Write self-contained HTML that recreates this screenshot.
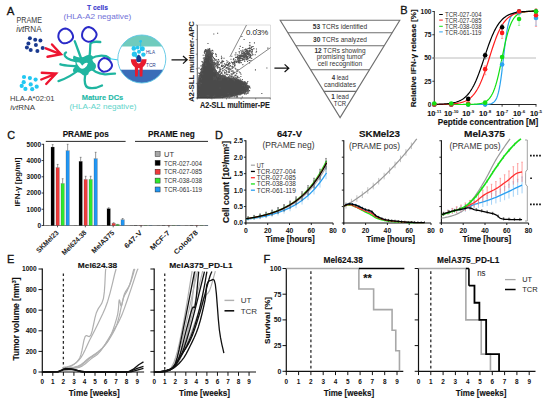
<!DOCTYPE html><html><head><meta charset="utf-8"><style>html,body{margin:0;padding:0;background:#fff;width:550px;height:401px;overflow:hidden}svg{display:block}text{font-family:"Liberation Sans",sans-serif}</style></head><body>
<svg width="550" height="401" viewBox="0 0 550 401">
<rect width="550" height="401" fill="#fff"/>
<text x="6.8" y="14.6" font-size="11.4" fill="#111" stroke="#111" stroke-width="0.3">A</text>
<text x="16.6" y="22.6" font-size="8.4" fill="#3a3a3a" textLength="25.4" lengthAdjust="spacingAndGlyphs" >PRAME</text>
<text x="16.2" y="31.9" font-size="8.4" fill="#3a3a3a" textLength="25.4" lengthAdjust="spacingAndGlyphs"><tspan font-style="italic">ivt</tspan>RNA</text>
<circle cx="29.9" cy="38.2" r="2" fill="#1a3a8f" />
<circle cx="35.2" cy="39.7" r="2" fill="#1a3a8f" />
<circle cx="40.4" cy="40.4" r="2" fill="#1a3a8f" />
<circle cx="28.4" cy="43.4" r="2" fill="#1a3a8f" />
<circle cx="35.9" cy="44.9" r="2" fill="#1a3a8f" />
<circle cx="42.7" cy="47.9" r="2" fill="#1a3a8f" />
<circle cx="26.9" cy="47.6" r="2" fill="#1a3a8f" />
<circle cx="30.7" cy="50.1" r="2" fill="#1a3a8f" />
<circle cx="37.4" cy="50.9" r="2" fill="#1a3a8f" />
<circle cx="24" cy="77" r="2.1" fill="#22c8f2" />
<circle cx="29.9" cy="78.1" r="2.1" fill="#22c8f2" />
<circle cx="35.6" cy="79.6" r="2.1" fill="#22c8f2" />
<circle cx="23.7" cy="82.2" r="2.1" fill="#22c8f2" />
<circle cx="30.7" cy="84.4" r="2.1" fill="#22c8f2" />
<circle cx="36.7" cy="86.7" r="2.1" fill="#22c8f2" />
<circle cx="21.7" cy="85.9" r="2.1" fill="#22c8f2" />
<circle cx="25.4" cy="88.9" r="2.1" fill="#22c8f2" />
<circle cx="32.2" cy="89.2" r="2.1" fill="#22c8f2" />
<text x="10" y="101.1" font-size="7.6" fill="#3a3a3a" textLength="44.6" lengthAdjust="spacingAndGlyphs" >HLA-A*02:01</text>
<text x="10.2" y="109.9" font-size="7.8" fill="#3a3a3a" textLength="24.8" lengthAdjust="spacingAndGlyphs"><tspan font-style="italic">ivt</tspan>RNA</text>
<g stroke="#ee1530" stroke-width="2.4" fill="none" stroke-linecap="round" stroke-linejoin="miter">
<path d="M45.8,48.3 L61,54.3 M52,44.5 L61,54.3 L47.5,56.8"/>
<path d="M41.3,79.5 L56,73.6 M41.8,72.8 L56,73.6 L46.2,84"/>
</g>
<text x="86.9" y="10.2" font-size="8" fill="#3838cc" font-weight="bold" stroke="#3838cc" stroke-width="0.12" textLength="21" lengthAdjust="spacingAndGlyphs" >T cells</text>
<text x="63.6" y="19.3" font-size="7.6" fill="#7272d8" textLength="67.7" lengthAdjust="spacingAndGlyphs" >(HLA-A2 negative)</text>
<g stroke="#1fb5a0" stroke-width="2.3" fill="none" stroke-linecap="round">
<path d="M81,58 C79,53 77,47 74.7,41.2"/>
<path d="M79,61 C74,61 67,59.5 65,56 C64,54 65,53 66,52.5"/>
<path d="M78,66.5 C72,65.5 66,66 60.4,64.3"/>
<path d="M79,69.5 C75,73 68,78 58.5,81.1"/>
<path d="M86,72 C84.5,77 84.5,83 86,86 C88,89 95,89 102,85.5"/>
<path d="M89,58.5 C90.5,53 90,46 90.5,43.5 C92,41.5 96,41.5 100.3,42"/>
<path d="M90,59 C95,56 101,55 106.2,56.2 C108,57 109,58 110,58.7"/>
<path d="M90,67 C93,70 96,73.5 105,74.3 C109,74.5 112,73.5 115,73.7"/>
</g>
<path transform="translate(84 65) scale(1.2) translate(-84 -65)" d="M75.5,57 Q81,60.5 86,57 Q89.5,55.5 91.5,58 Q90,62 93.5,64 Q95,67.5 92,69.5 Q88,69.5 87.5,73 Q84,75 82,72.5 Q80,70 76,71.5 Q73.5,69.5 76,67 Q78.5,64 75,60.5 Q74.5,58 75.5,57Z" fill="#1fb5a0"/>
<path transform="translate(83 65) scale(1.1) translate(-83 -65)" d="M77,62.8 Q80,61.8 81.5,64.5 Q82.5,66.3 83.5,64.3 Q85,62.3 87.5,63.2 Q87,66 84.5,67.8 Q82,69.3 80,67.3 Q78,65.5 77,62.8Z" fill="#fff"/>
<line x1="110" y1="58.7" x2="118.7" y2="60" stroke="#3cd0ee" stroke-width="1.1" />
<path d="M68.67,42.2 L67.51,42.68 L66.19,43.03 L64.83,43.21 L63.53,43.17 L62.4,42.87 L61.39,42.23 L60.43,41.3 L59.58,40.16 L58.92,38.95 L58.51,37.78 L58.36,36.57 L58.43,35.25 L58.69,33.92 L59.13,32.69 L59.74,31.63 L60.58,30.71 L61.66,29.86 L62.88,29.15 L64.13,28.67 L65.32,28.48 L66.48,28.65 L67.69,29.11 L68.88,29.79 L69.96,30.62 L70.85,31.52 L71.6,32.55 L72.27,33.77 L72.78,35.07 L73.05,36.36 L73.01,37.52 L72.59,38.61 L71.84,39.68 L70.86,40.68 L69.77,41.54 L68.67,42.2Z" fill="none" stroke="#2a2ac8" stroke-width="2.0" stroke-linejoin="round"/>
<path d="M87.47,41.55 L86.33,41.16 L85.15,40.5 L84.06,39.64 L83.14,38.67 L82.5,37.66 L82.16,36.54 L82.05,35.26 L82.15,33.92 L82.42,32.63 L82.85,31.47 L83.48,30.39 L84.32,29.3 L85.3,28.33 L86.37,27.57 L87.44,27.14 L88.58,27.09 L89.85,27.33 L91.13,27.81 L92.34,28.44 L93.38,29.16 L94.3,30.02 L95.17,31.06 L95.9,32.21 L96.41,33.39 L96.6,34.52 L96.43,35.67 L95.94,36.89 L95.23,38.08 L94.37,39.14 L93.46,39.99 L92.43,40.64 L91.22,41.16 L89.93,41.51 L88.65,41.65 L87.47,41.55Z" fill="none" stroke="#2a2ac8" stroke-width="2.0" stroke-linejoin="round"/>
<path d="M108.5,70.42 L107.48,70.95 L106.31,71.36 L105.09,71.6 L103.89,71.66 L102.82,71.47 L101.82,71 L100.82,70.25 L99.92,69.33 L99.18,68.31 L98.69,67.3 L98.46,66.22 L98.44,65.02 L98.61,63.79 L98.94,62.61 L99.42,61.59 L100.1,60.65 L100.99,59.75 L102.01,58.96 L103.09,58.37 L104.14,58.08 L105.2,58.13 L106.35,58.46 L107.49,59.01 L108.55,59.69 L109.45,60.44 L110.23,61.32 L110.95,62.36 L111.54,63.5 L111.91,64.64 L111.99,65.7 L111.71,66.74 L111.13,67.8 L110.34,68.82 L109.43,69.72 L108.5,70.42Z" fill="none" stroke="#2a2ac8" stroke-width="2.0" stroke-linejoin="round"/>
<text x="81.7" y="99.6" font-size="8" fill="#22b8a6" font-weight="bold" stroke="#22b8a6" stroke-width="0.12" textLength="41.5" lengthAdjust="spacingAndGlyphs" >Mature DCs</text>
<text x="69.4" y="108.6" font-size="7.6" fill="#62d4ca" textLength="67" lengthAdjust="spacingAndGlyphs" >(HLA-A2 negative)</text>
<defs><clipPath id="mc"><circle cx="141.8" cy="59" r="24"/></clipPath></defs>
<g clip-path="url(#mc)">
<rect x="117" y="34" width="50" height="50" fill="#fff"/>
<rect x="117" y="34" width="50" height="12.5" fill="#70cbbd"/>
<rect x="117" y="69.7" width="50" height="15" fill="#3a6db8"/>
</g>
<circle cx="141.8" cy="59" r="24" fill="none" stroke="#5cc6e4" stroke-width="0.9"/>
<line x1="140.7" y1="41.2" x2="140.7" y2="47.5" stroke="#26c4ef" stroke-width="0.9" />
<circle cx="140.7" cy="41.2" r="1.3" fill="#26c4ef" />
<circle cx="133.8" cy="48.4" r="2.3" fill="#26c4ef" />
<circle cx="137.6" cy="47.6" r="1.9" fill="#26c4ef" />
<circle cx="142.3" cy="48.8" r="2.5" fill="#26c4ef" />
<circle cx="134.4" cy="54.2" r="2.6" fill="#26c4ef" />
<circle cx="139" cy="51.8" r="2" fill="#26c4ef" />
<circle cx="143.4" cy="54.6" r="2.2" fill="#26c4ef" />
<circle cx="136.8" cy="56.5" r="1.5" fill="#26c4ef" />
<path d="M130.8,59.2 L136,59.2 C136.5,62 137.5,63.5 138.8,63.5 C140,63.5 141.2,62 141.6,59.2 L146.6,59.2 C146.6,63 145,65.5 142.8,67.3 L142.4,76.6 L139.8,76.6 L139.4,68 L138.2,68 L137.7,76.6 L135.1,76.6 L134.8,67.3 C132.5,65.5 130.8,63 130.8,59.2 Z" fill="#e81a2e"/>
<path d="M138.8,54.5 C140.8,56 142,59 141.3,61 C140.6,62.6 137.1,62.6 136.3,61 C135.6,59 136.8,56 138.8,54.5Z" fill="#1b3a8e"/>
<text x="146" y="54.1" font-size="5.3" fill="#2b3b8a" textLength="9" lengthAdjust="spacingAndGlyphs" >HLA</text>
<text x="146" y="67.4" font-size="5.3" fill="#2b3b8a" textLength="9.7" lengthAdjust="spacingAndGlyphs" >TCR</text>
<g stroke="#111" stroke-width="1.2" fill="none"><path d="M171.5,59.8 L187,59.8 M183,56 L187.2,59.8 L183,63.6"/></g>
<line x1="197.3" y1="25" x2="270.5" y2="25" stroke="#c8c8c8" stroke-width="0.6" />
<line x1="270.5" y1="25" x2="270.5" y2="98" stroke="#c8c8c8" stroke-width="0.6" />
<path d="M197.8,98 L197.8,84 L199,77 L201.5,70 L203.5,63 L205.5,56 L207.5,51.8 L209.5,51.3 L211,54 L212.5,60 L214,66 L216,71 L220,75 L226,77.5 L234,78.5 L241,80.5 L246,83.5 L249,87 L248,91 L242,94 L232,96.5 L220,97.8 L210,98Z" fill="#4a4a4a" stroke="#4a4a4a" stroke-width="0.8" stroke-linejoin="round"/>
<path d="M211.81,54.46h1.1v1.1h-1.1z M243.77,81.91h1.1v1.1h-1.1z M242.17,84.99h1.1v1.1h-1.1z M241.91,81.17h1.1v1.1h-1.1z M205.13,63.24h1.1v1.1h-1.1z M223.67,75.89h1.1v1.1h-1.1z M247.65,88.2h1.1v1.1h-1.1z M210.64,53.67h1.1v1.1h-1.1z M247.24,90.73h1.1v1.1h-1.1z M200.02,69.23h1.1v1.1h-1.1z M214.32,96.55h1.1v1.1h-1.1z M246.51,85.15h1.1v1.1h-1.1z M231.75,76.42h1.1v1.1h-1.1z M199.19,85.35h1.1v1.1h-1.1z M205.6,53.96h1.1v1.1h-1.1z M243.83,91.29h1.1v1.1h-1.1z M246.91,92.3h1.1v1.1h-1.1z M233.99,78.02h1.1v1.1h-1.1z M234.16,78.31h1.1v1.1h-1.1z M212.33,56.47h1.1v1.1h-1.1z M227.62,79.22h1.1v1.1h-1.1z M216.75,66.31h1.1v1.1h-1.1z M222.59,74.45h1.1v1.1h-1.1z M244.89,82.36h1.1v1.1h-1.1z M212.55,63.18h1.1v1.1h-1.1z M212,66.38h1.1v1.1h-1.1z M222.01,97.18h1.1v1.1h-1.1z M217.61,74.37h1.1v1.1h-1.1z M245.59,87.64h1.1v1.1h-1.1z M210.86,58.9h1.1v1.1h-1.1z M205.2,55.07h1.1v1.1h-1.1z M238.95,93.52h1.1v1.1h-1.1z M246.44,82.82h1.1v1.1h-1.1z M205.96,52.13h1.1v1.1h-1.1z M236.99,96.38h1.1v1.1h-1.1z M239.63,79.44h1.1v1.1h-1.1z M227.89,95.8h1.1v1.1h-1.1z M202.11,68.91h1.1v1.1h-1.1z M245.93,93.32h1.1v1.1h-1.1z M229.15,94.88h1.1v1.1h-1.1z M228.07,76.25h1.1v1.1h-1.1z M217.56,74.62h1.1v1.1h-1.1z M198.42,77.11h1.1v1.1h-1.1z M228.66,97.19h1.1v1.1h-1.1z M206.67,94.98h1.1v1.1h-1.1z M213.56,97.03h1.1v1.1h-1.1z M212.41,50.38h1.1v1.1h-1.1z M205.27,64.56h1.1v1.1h-1.1z M232.21,77.7h1.1v1.1h-1.1z M205.97,53.6h1.1v1.1h-1.1z M249.7,87.44h1.1v1.1h-1.1z M215.3,65.79h1.1v1.1h-1.1z M198.19,82.51h1.1v1.1h-1.1z M202.05,65.42h1.1v1.1h-1.1z M206.42,56.77h1.1v1.1h-1.1z M219.61,75.59h1.1v1.1h-1.1z M248.1,85.13h1.1v1.1h-1.1z M199.85,82.57h1.1v1.1h-1.1z M198.98,72.89h1.1v1.1h-1.1z M198.29,72.61h1.1v1.1h-1.1z M217.88,71.41h1.1v1.1h-1.1z M203.79,57.32h1.1v1.1h-1.1z M201.26,72.87h1.1v1.1h-1.1z M234.31,96.26h1.1v1.1h-1.1z M206.9,97.03h1.1v1.1h-1.1z M200.57,71.51h1.1v1.1h-1.1z M209.51,51.32h1.1v1.1h-1.1z M209.71,97.18h1.1v1.1h-1.1z M201.86,64.08h1.1v1.1h-1.1z M242.21,92.76h1.1v1.1h-1.1z M220.21,74.89h1.1v1.1h-1.1z M222.99,75.26h1.1v1.1h-1.1z M202.12,70.26h1.1v1.1h-1.1z M209.09,48h1.1v1.1h-1.1z M198.47,79h1.1v1.1h-1.1z M199.48,75.65h1.1v1.1h-1.1z M235.38,94.85h1.1v1.1h-1.1z M236.69,95.53h1.1v1.1h-1.1z M199.67,76.8h1.1v1.1h-1.1z M204.22,52.99h1.1v1.1h-1.1z M248.24,86.44h1.1v1.1h-1.1z M201.78,61.33h1.1v1.1h-1.1z M205.23,54.15h1.1v1.1h-1.1z M246.62,86.03h1.1v1.1h-1.1z M214.03,62.1h1.1v1.1h-1.1z M243.84,93.11h1.1v1.1h-1.1z M197.54,92.88h1.1v1.1h-1.1z M244.31,93.55h1.1v1.1h-1.1z M203.13,57.61h1.1v1.1h-1.1z M209.11,48.94h1.1v1.1h-1.1z M248.93,86.54h1.1v1.1h-1.1z M224.44,76.14h1.1v1.1h-1.1z M208.94,51.35h1.1v1.1h-1.1z M201.43,68.97h1.1v1.1h-1.1z M209.68,52.24h1.1v1.1h-1.1z M211.67,96.83h1.1v1.1h-1.1z M198.49,78.49h1.1v1.1h-1.1z M219.07,77.21h1.1v1.1h-1.1z M202.18,73.56h1.1v1.1h-1.1z M211.77,53.58h1.1v1.1h-1.1z M217.93,75.35h1.1v1.1h-1.1z M220.37,96.61h1.1v1.1h-1.1z M214.17,68.67h1.1v1.1h-1.1z M244,81.87h1.1v1.1h-1.1z M241.72,91.01h1.1v1.1h-1.1z M204.77,59.99h1.1v1.1h-1.1z M198.44,67.62h1.1v1.1h-1.1z M221.45,95.94h1.1v1.1h-1.1z M226.95,96.44h1.1v1.1h-1.1z M208.15,95.32h1.1v1.1h-1.1z M247.41,89.13h1.1v1.1h-1.1z M211.29,55.48h1.1v1.1h-1.1z M245.74,82.43h1.1v1.1h-1.1z M213.1,70.93h1.1v1.1h-1.1z M199.69,73.46h1.1v1.1h-1.1z M210.64,55.47h1.1v1.1h-1.1z M201.82,69.41h1.1v1.1h-1.1z M224.33,74.75h1.1v1.1h-1.1z M205.16,54.88h1.1v1.1h-1.1z M206.38,54h1.1v1.1h-1.1z M212.89,57.04h1.1v1.1h-1.1z M222.28,74.62h1.1v1.1h-1.1z M244.91,81.87h1.1v1.1h-1.1z M212.93,96.1h1.1v1.1h-1.1z M205.17,53.46h1.1v1.1h-1.1z M247.22,80.95h1.1v1.1h-1.1z M233.84,80.03h1.1v1.1h-1.1z M203.7,59.75h1.1v1.1h-1.1z M244.18,81.08h1.1v1.1h-1.1z M219.94,75.15h1.1v1.1h-1.1z M234.22,95.5h1.1v1.1h-1.1z M215.58,70.89h1.1v1.1h-1.1z M207.89,49.54h1.1v1.1h-1.1z M200.42,65.31h1.1v1.1h-1.1z M247.99,91.31h1.1v1.1h-1.1z M206.83,53.77h1.1v1.1h-1.1z M216.39,73.25h1.1v1.1h-1.1z M237.34,79.25h1.1v1.1h-1.1z M245.18,91.93h1.1v1.1h-1.1z M201.39,65.48h1.1v1.1h-1.1z M197.97,84.08h1.1v1.1h-1.1z M223.22,77.2h1.1v1.1h-1.1z M217.14,72.78h1.1v1.1h-1.1z M212.71,59.69h1.1v1.1h-1.1z M212.38,62.26h1.1v1.1h-1.1z M214.38,69.07h1.1v1.1h-1.1z M201.68,69.67h1.1v1.1h-1.1z M198.41,81.52h1.1v1.1h-1.1z M215.31,66.21h1.1v1.1h-1.1z M245.36,82.58h1.1v1.1h-1.1z M212.2,63h1.1v1.1h-1.1z M210.9,61.36h1.1v1.1h-1.1z M246.85,85.08h1.1v1.1h-1.1z M207.47,50.97h1.1v1.1h-1.1z M249.03,90.03h1.1v1.1h-1.1z M235.33,76.95h1.1v1.1h-1.1z M209.51,58.28h1.1v1.1h-1.1z M207.81,52.67h1.1v1.1h-1.1z M230.46,95.76h1.1v1.1h-1.1z M239.6,78.58h1.1v1.1h-1.1z M216.23,72.61h1.1v1.1h-1.1z M201.09,68.4h1.1v1.1h-1.1z M227.57,92.91h1.1v1.1h-1.1z M230.36,96.08h1.1v1.1h-1.1z M213.71,66.9h1.1v1.1h-1.1z M230.44,76.83h1.1v1.1h-1.1z M245.89,89.95h1.1v1.1h-1.1z M198.46,77.86h1.1v1.1h-1.1z M201.78,67.71h1.1v1.1h-1.1z M237.14,77h1.1v1.1h-1.1z M202.42,62.33h1.1v1.1h-1.1z M215.87,70.15h1.1v1.1h-1.1z M211.22,63.13h1.1v1.1h-1.1z M208.28,51.24h1.1v1.1h-1.1z M200.28,68.84h1.1v1.1h-1.1z M229.67,95.92h1.1v1.1h-1.1z M207.59,50.2h1.1v1.1h-1.1z M210.48,50.66h1.1v1.1h-1.1z M229.72,96.05h1.1v1.1h-1.1z M228.91,77.24h1.1v1.1h-1.1z M198.96,96.04h1.1v1.1h-1.1z M214.07,63.02h1.1v1.1h-1.1z M208.22,52.24h1.1v1.1h-1.1z M218.07,74.47h1.1v1.1h-1.1z M202.75,63h1.1v1.1h-1.1z M216.05,64.97h1.1v1.1h-1.1z M216.42,75.51h1.1v1.1h-1.1z M241.89,81.21h1.1v1.1h-1.1z M209.74,61.78h1.1v1.1h-1.1z M214.5,63.27h1.1v1.1h-1.1z M210.58,51.5h1.1v1.1h-1.1z M237.14,78.4h1.1v1.1h-1.1z M248.5,86.78h1.1v1.1h-1.1z M233.59,76.34h1.1v1.1h-1.1z M201.71,68.24h1.1v1.1h-1.1z M242.52,81.59h1.1v1.1h-1.1z M226.53,76.97h1.1v1.1h-1.1z M247.41,92.84h1.1v1.1h-1.1z M230.32,76.02h1.1v1.1h-1.1z M211.91,53.97h1.1v1.1h-1.1z M199.54,76.36h1.1v1.1h-1.1z M214.19,94.65h1.1v1.1h-1.1z M245.9,84.31h1.1v1.1h-1.1z M206.67,57.03h1.1v1.1h-1.1z M200.91,67.74h1.1v1.1h-1.1z M211.86,55.97h1.1v1.1h-1.1z M215.19,66.5h1.1v1.1h-1.1z M211.82,52.24h1.1v1.1h-1.1z M202.79,57.72h1.1v1.1h-1.1z M202.12,66.56h1.1v1.1h-1.1z M246.74,82.18h1.1v1.1h-1.1z M206.5,52.66h1.1v1.1h-1.1z M220.93,78.39h1.1v1.1h-1.1z M213.26,67.7h1.1v1.1h-1.1z M201.4,60.97h1.1v1.1h-1.1z M241.76,81.14h1.1v1.1h-1.1z M245.35,82.86h1.1v1.1h-1.1z M199.22,83.94h1.1v1.1h-1.1z M226.57,77.33h1.1v1.1h-1.1z M248.57,90.02h1.1v1.1h-1.1z M205.91,54.39h1.1v1.1h-1.1z M237.74,78.72h1.1v1.1h-1.1z M221.87,96.73h1.1v1.1h-1.1z M203.56,59.12h1.1v1.1h-1.1z M221.14,75h1.1v1.1h-1.1z M202.09,69.3h1.1v1.1h-1.1z M241.78,96.52h1.1v1.1h-1.1z M204.94,56.81h1.1v1.1h-1.1z M241.81,79.05h1.1v1.1h-1.1z M218.43,71.46h1.1v1.1h-1.1z M227.8,77.08h1.1v1.1h-1.1z M246.36,89.73h1.1v1.1h-1.1z M213.82,64.38h1.1v1.1h-1.1z M205.95,53.54h1.1v1.1h-1.1z M202.46,65.99h1.1v1.1h-1.1z M224.77,75.47h1.1v1.1h-1.1z M209.23,53.65h1.1v1.1h-1.1z M204.41,59.72h1.1v1.1h-1.1z M244.7,92.68h1.1v1.1h-1.1z M233.54,94.2h1.1v1.1h-1.1z M209.99,53.99h1.1v1.1h-1.1z M214.92,70.48h1.1v1.1h-1.1z M209.54,56.39h1.1v1.1h-1.1z M205.54,51.06h1.1v1.1h-1.1z M239.51,94.39h1.1v1.1h-1.1z M236.05,96.32h1.1v1.1h-1.1z M222.11,75.69h1.1v1.1h-1.1z M198.94,78.69h1.1v1.1h-1.1z M223.01,77.07h1.1v1.1h-1.1z M243.93,85.31h1.1v1.1h-1.1z M210.07,97.06h1.1v1.1h-1.1z M208.97,50.76h1.1v1.1h-1.1z M198.18,75.33h1.1v1.1h-1.1z M198.66,89.14h1.1v1.1h-1.1z M220.27,71.32h1.1v1.1h-1.1z M234.49,77.85h1.1v1.1h-1.1z M221.51,75.86h1.1v1.1h-1.1z M249.04,85.64h1.1v1.1h-1.1z M199.89,72.21h1.1v1.1h-1.1z M245.03,83.4h1.1v1.1h-1.1z M219.54,73.66h1.1v1.1h-1.1z M249.3,50.4h1.1v1.1h-1.1z M251.11,46.56h1.1v1.1h-1.1z M248.07,55.52h1.1v1.1h-1.1z M249.46,55.41h1.1v1.1h-1.1z M247.93,51.29h1.1v1.1h-1.1z M235.33,52.32h1.1v1.1h-1.1z M225.15,64.2h1.1v1.1h-1.1z M243.98,60.61h1.1v1.1h-1.1z M237.37,56.38h1.1v1.1h-1.1z M250.05,50.28h1.1v1.1h-1.1z M244.26,55.38h1.1v1.1h-1.1z M243.15,57.24h1.1v1.1h-1.1z M243.18,56.49h1.1v1.1h-1.1z M241.23,55.48h1.1v1.1h-1.1z M245.36,50.99h1.1v1.1h-1.1z M250.43,48.24h1.1v1.1h-1.1z M244.31,53.73h1.1v1.1h-1.1z M227.02,65.21h1.1v1.1h-1.1z M244.72,52.93h1.1v1.1h-1.1z M247.89,53.03h1.1v1.1h-1.1z M249.46,44.76h1.1v1.1h-1.1z M235.69,61.74h1.1v1.1h-1.1z M237.76,59.96h1.1v1.1h-1.1z M252.63,45.9h1.1v1.1h-1.1z M239.48,60.38h1.1v1.1h-1.1z M244.28,60.73h1.1v1.1h-1.1z M240.72,62.1h1.1v1.1h-1.1z M241.91,52.79h1.1v1.1h-1.1z M234.39,64.25h1.1v1.1h-1.1z M229.03,63.33h1.1v1.1h-1.1z M230.41,69.5h1.1v1.1h-1.1z M239.03,56.66h1.1v1.1h-1.1z M240.83,55.41h1.1v1.1h-1.1z M246.1,51.67h1.1v1.1h-1.1z M242.55,55.31h1.1v1.1h-1.1z M238.34,59.79h1.1v1.1h-1.1z M237.56,57.63h1.1v1.1h-1.1z M251.47,49.18h1.1v1.1h-1.1z M237.44,54.77h1.1v1.1h-1.1z M251.19,51.22h1.1v1.1h-1.1z M244.36,51.5h1.1v1.1h-1.1z M234.27,62.01h1.1v1.1h-1.1z M249.13,51.19h1.1v1.1h-1.1z M244.99,51.01h1.1v1.1h-1.1z M241.32,59.76h1.1v1.1h-1.1z M237.62,57.12h1.1v1.1h-1.1z M242.29,64.04h1.1v1.1h-1.1z M240.33,54.52h1.1v1.1h-1.1z M249.41,47.82h1.1v1.1h-1.1z M245.01,48.6h1.1v1.1h-1.1z M234.18,60.46h1.1v1.1h-1.1z M246.51,56.25h1.1v1.1h-1.1z M243.87,56.38h1.1v1.1h-1.1z M242.24,53.51h1.1v1.1h-1.1z M237.9,61.05h1.1v1.1h-1.1z M241.95,59.75h1.1v1.1h-1.1z M246.91,57.36h1.1v1.1h-1.1z M251.51,46.24h1.1v1.1h-1.1z M236.16,61.94h1.1v1.1h-1.1z M233.84,62.08h1.1v1.1h-1.1z M234.35,63.67h1.1v1.1h-1.1z M233.85,61.59h1.1v1.1h-1.1z M221.82,65.81h1.1v1.1h-1.1z M236.05,60.67h1.1v1.1h-1.1z M238.7,54.83h1.1v1.1h-1.1z M251.08,48.83h1.1v1.1h-1.1z M239.13,58.39h1.1v1.1h-1.1z M229.63,65.74h1.1v1.1h-1.1z M252.37,54.04h1.1v1.1h-1.1z M234.9,56.71h1.1v1.1h-1.1z M235.18,56.94h1.1v1.1h-1.1z M252,49.11h1.1v1.1h-1.1z M237.36,60.25h1.1v1.1h-1.1z M241.49,57.86h1.1v1.1h-1.1z M241.26,53.65h1.1v1.1h-1.1z M238.46,60.31h1.1v1.1h-1.1z M250.63,54.79h1.1v1.1h-1.1z M242.19,52.44h1.1v1.1h-1.1z M243.16,51.47h1.1v1.1h-1.1z M235.62,60.51h1.1v1.1h-1.1z M247.09,52.32h1.1v1.1h-1.1z M238.85,52.49h1.1v1.1h-1.1z M241.93,58.2h1.1v1.1h-1.1z M222.66,65.01h1.1v1.1h-1.1z M246.18,49.22h1.1v1.1h-1.1z M238.74,60.23h1.1v1.1h-1.1z M232.55,63.85h1.1v1.1h-1.1z M256,50.65h1.1v1.1h-1.1z M239.31,61.75h1.1v1.1h-1.1z M245.87,56.91h1.1v1.1h-1.1z M238.85,48.2h1.1v1.1h-1.1z M242.12,56.04h1.1v1.1h-1.1z M242.3,49.61h1.1v1.1h-1.1z M232.16,62.58h1.1v1.1h-1.1z M243.92,56.52h1.1v1.1h-1.1z M232.06,61.89h1.1v1.1h-1.1z M244.42,58.39h1.1v1.1h-1.1z M239.39,59.44h1.1v1.1h-1.1z M249.47,45.17h1.1v1.1h-1.1z M232.74,66.74h1.1v1.1h-1.1z M228.03,64.54h1.1v1.1h-1.1z M227.5,68.56h1.1v1.1h-1.1z M245.51,50.37h1.1v1.1h-1.1z M248.51,53.91h1.1v1.1h-1.1z M240.53,55.62h1.1v1.1h-1.1z M247.44,53.92h1.1v1.1h-1.1z M240.9,52.27h1.1v1.1h-1.1z M237.38,69.02h1.1v1.1h-1.1z M240.56,55.98h1.1v1.1h-1.1z M241.38,57.9h1.1v1.1h-1.1z M230.94,61.53h1.1v1.1h-1.1z M247.17,51.71h1.1v1.1h-1.1z M250.99,51.41h1.1v1.1h-1.1z M247.36,48.05h1.1v1.1h-1.1z M237.7,62.18h1.1v1.1h-1.1z M239.16,57.9h1.1v1.1h-1.1z M245,48.96h1.1v1.1h-1.1z M255.93,48.39h1.1v1.1h-1.1z M239.19,61.15h1.1v1.1h-1.1z M249.22,49.62h1.1v1.1h-1.1z M239.41,55.17h1.1v1.1h-1.1z M246.9,54.21h1.1v1.1h-1.1z M243.14,55.33h1.1v1.1h-1.1z M247.49,59.4h1.1v1.1h-1.1z M251.65,51.46h1.1v1.1h-1.1z M248.47,47.82h1.1v1.1h-1.1z M239.64,55.45h1.1v1.1h-1.1z M245.01,53.42h1.1v1.1h-1.1z M245.06,54.66h1.1v1.1h-1.1z M242.22,46.99h1.1v1.1h-1.1z M233.6,60.78h1.1v1.1h-1.1z M244.65,55.86h1.1v1.1h-1.1z M239.16,58.79h1.1v1.1h-1.1z M226.51,67.07h1.1v1.1h-1.1z M233.25,58.04h1.1v1.1h-1.1z M241.21,52.61h1.1v1.1h-1.1z M226.33,64.54h1.1v1.1h-1.1z M238.03,57.32h1.1v1.1h-1.1z M233.95,64.82h1.1v1.1h-1.1z M244.11,52.3h1.1v1.1h-1.1z M239.44,56.86h1.1v1.1h-1.1z M245.48,48.53h1.1v1.1h-1.1z M236.08,60.63h1.1v1.1h-1.1z M247.34,50.71h1.1v1.1h-1.1z M233.59,66.19h1.1v1.1h-1.1z M248.32,52.54h1.1v1.1h-1.1z M240.15,59.92h1.1v1.1h-1.1z M246.73,49.81h1.1v1.1h-1.1z M234.78,59.22h1.1v1.1h-1.1z M246.67,50.59h1.1v1.1h-1.1z M243.03,58.66h1.1v1.1h-1.1z M228.27,66.22h1.1v1.1h-1.1z M249.28,46.63h1.1v1.1h-1.1z M236.91,56.03h1.1v1.1h-1.1z M234.48,65.19h1.1v1.1h-1.1z M245.78,54.38h1.1v1.1h-1.1z M248.52,49.95h1.1v1.1h-1.1z M250.96,48.78h1.1v1.1h-1.1z M239.68,45.85h1.1v1.1h-1.1z M239.47,61.73h1.1v1.1h-1.1z M241.68,55.57h1.1v1.1h-1.1z M251.54,52.79h1.1v1.1h-1.1z M241.47,51.01h1.1v1.1h-1.1z M250.62,51.77h1.1v1.1h-1.1z M245.26,54.61h1.1v1.1h-1.1z M239.1,62.42h1.1v1.1h-1.1z M248.85,56.85h1.1v1.1h-1.1z M251.8,50.6h1.1v1.1h-1.1z M228.46,69.66h1.1v1.1h-1.1z M223.08,60.89h1.1v1.1h-1.1z M232.87,59.04h1.1v1.1h-1.1z M239.54,57.92h1.1v1.1h-1.1z M239.09,57.59h1.1v1.1h-1.1z M251.95,54.46h1.1v1.1h-1.1z M247.37,53.75h1.1v1.1h-1.1z M229.7,68.61h1.1v1.1h-1.1z M229.38,65.58h1.1v1.1h-1.1z M251.01,46.4h1.1v1.1h-1.1z M244.4,55.77h1.1v1.1h-1.1z M244.15,56.74h1.1v1.1h-1.1z M247.47,51.42h1.1v1.1h-1.1z M245.09,52.88h1.1v1.1h-1.1z M237.23,57.51h1.1v1.1h-1.1z M238.61,51.08h1.1v1.1h-1.1z M238,57.9h1.1v1.1h-1.1z M246.63,50.22h1.1v1.1h-1.1z M250.12,56.78h1.1v1.1h-1.1z M243.62,57.2h1.1v1.1h-1.1z M249.91,53.64h1.1v1.1h-1.1z M233.73,63h1.1v1.1h-1.1z M245.48,55.15h1.1v1.1h-1.1z M253.31,48.04h1.1v1.1h-1.1z M228.02,63.58h1.1v1.1h-1.1z M228.83,61.98h1.1v1.1h-1.1z M250.12,56.26h1.1v1.1h-1.1z M244.07,49.35h1.1v1.1h-1.1z M253.93,42.37h1.1v1.1h-1.1z M230.44,58.7h1.1v1.1h-1.1z M248.12,51.7h1.1v1.1h-1.1z M249.28,42.12h1.1v1.1h-1.1z M251.14,58h1.1v1.1h-1.1z M250.93,46.78h1.1v1.1h-1.1z M249.03,54.21h1.1v1.1h-1.1z M234.45,61h1.1v1.1h-1.1z M238.17,62.18h1.1v1.1h-1.1z M248.86,44.73h1.1v1.1h-1.1z M231.99,62.43h1.1v1.1h-1.1z M241.86,58.28h1.1v1.1h-1.1z M237.25,60.84h1.1v1.1h-1.1z M255.54,51.67h1.1v1.1h-1.1z M232.97,61.89h1.1v1.1h-1.1z M231.8,65.85h1.1v1.1h-1.1z M239.7,55.34h1.1v1.1h-1.1z M224.82,65.31h1.1v1.1h-1.1z M236.13,56.81h1.1v1.1h-1.1z M240.43,55.15h1.1v1.1h-1.1z M236.86,58.62h1.1v1.1h-1.1z M238.69,57.52h1.1v1.1h-1.1z M226.56,61.93h1.1v1.1h-1.1z M234.27,62.48h1.1v1.1h-1.1z M246.96,57.96h1.1v1.1h-1.1z M249,50.87h1.1v1.1h-1.1z M245.74,53.09h1.1v1.1h-1.1z M226,67.04h1.1v1.1h-1.1z M254.68,54.26h1.1v1.1h-1.1z M239.42,58.21h1.1v1.1h-1.1z M231.28,55.64h1.1v1.1h-1.1z M239.25,59.35h1.1v1.1h-1.1z M247.22,53.68h1.1v1.1h-1.1z M240.09,55.36h1.1v1.1h-1.1z M215.22,62.5h1.1v1.1h-1.1z M214.75,76.52h1.1v1.1h-1.1z M224.15,75.37h1.1v1.1h-1.1z M222.07,76.84h1.1v1.1h-1.1z M217.59,65.23h1.1v1.1h-1.1z M220.14,74.67h1.1v1.1h-1.1z M217.67,75.78h1.1v1.1h-1.1z M228.23,71.33h1.1v1.1h-1.1z M226.94,74.24h1.1v1.1h-1.1z M215.14,64.36h1.1v1.1h-1.1z M213.26,79.12h1.1v1.1h-1.1z M219.18,70.29h1.1v1.1h-1.1z M230.59,73.18h1.1v1.1h-1.1z M216.09,72.42h1.1v1.1h-1.1z M221.01,75.31h1.1v1.1h-1.1z M217.05,76.48h1.1v1.1h-1.1z M217.77,62.12h1.1v1.1h-1.1z M231.8,78.4h1.1v1.1h-1.1z M220.01,73.54h1.1v1.1h-1.1z M214.62,77.43h1.1v1.1h-1.1z M215.6,79.25h1.1v1.1h-1.1z M217.72,61.97h1.1v1.1h-1.1z M216.1,64.61h1.1v1.1h-1.1z M220.85,65.9h1.1v1.1h-1.1z M218.68,71.08h1.1v1.1h-1.1z M225.51,76.13h1.1v1.1h-1.1z M213.09,61.85h1.1v1.1h-1.1z M227.75,77.44h1.1v1.1h-1.1z M213.26,69.65h1.1v1.1h-1.1z M214.99,70.82h1.1v1.1h-1.1z M219.97,68.72h1.1v1.1h-1.1z M213.52,65.53h1.1v1.1h-1.1z M213.95,63.9h1.1v1.1h-1.1z M220.62,77.18h1.1v1.1h-1.1z M213.57,58.01h1.1v1.1h-1.1z M228.76,71.94h1.1v1.1h-1.1z M215.87,72.3h1.1v1.1h-1.1z M213.19,67.63h1.1v1.1h-1.1z M216.86,67.6h1.1v1.1h-1.1z M221.16,71.91h1.1v1.1h-1.1z M218.66,71.95h1.1v1.1h-1.1z M215.28,70.72h1.1v1.1h-1.1z M222.22,74.16h1.1v1.1h-1.1z M215.61,59.53h1.1v1.1h-1.1z M216.53,74.3h1.1v1.1h-1.1z M221.96,68h1.1v1.1h-1.1z M217.12,65.78h1.1v1.1h-1.1z M227.32,76.73h1.1v1.1h-1.1z M222.7,76.33h1.1v1.1h-1.1z M232.88,79.05h1.1v1.1h-1.1z M212.09,65.33h1.1v1.1h-1.1z M213.29,67.34h1.1v1.1h-1.1z M219.22,70.41h1.1v1.1h-1.1z M213.29,77.3h1.1v1.1h-1.1z M215.76,59.2h1.1v1.1h-1.1z M221.56,77.07h1.1v1.1h-1.1z M212.65,64.35h1.1v1.1h-1.1z M217.37,61.54h1.1v1.1h-1.1z M218.42,72.42h1.1v1.1h-1.1z M227.88,71.66h1.1v1.1h-1.1z M223.6,66.88h1.1v1.1h-1.1z M230.81,73.54h1.1v1.1h-1.1z M221.18,65.2h1.1v1.1h-1.1z M221.6,72.72h1.1v1.1h-1.1z M218.58,79.42h1.1v1.1h-1.1z M222.35,69.56h1.1v1.1h-1.1z M232.49,79.07h1.1v1.1h-1.1z M214.75,76.91h1.1v1.1h-1.1z M221.32,65.39h1.1v1.1h-1.1z M230.74,76.27h1.1v1.1h-1.1z M217.31,75.67h1.1v1.1h-1.1z M227.84,71.27h1.1v1.1h-1.1z M214.16,69.56h1.1v1.1h-1.1z M233.25,77.39h1.1v1.1h-1.1z M220.54,72.9h1.1v1.1h-1.1z M233.02,76.69h1.1v1.1h-1.1z M217.43,63.85h1.1v1.1h-1.1z M222.86,67.45h1.1v1.1h-1.1z M221.01,65.11h1.1v1.1h-1.1z M221.89,67.95h1.1v1.1h-1.1z M213.09,76.38h1.1v1.1h-1.1z M214.12,71.5h1.1v1.1h-1.1z M231.54,75.5h1.1v1.1h-1.1z M215.56,78.28h1.1v1.1h-1.1z M220.06,69.27h1.1v1.1h-1.1z M233.02,77.32h1.1v1.1h-1.1z M213.7,78.49h1.1v1.1h-1.1z M213.83,57.97h1.1v1.1h-1.1z M213.94,58.14h1.1v1.1h-1.1z M219.04,71.23h1.1v1.1h-1.1z M215.61,78.88h1.1v1.1h-1.1z M229.05,74.56h1.1v1.1h-1.1z M224.06,72.62h1.1v1.1h-1.1z M218.2,63.55h1.1v1.1h-1.1z M220.39,79.36h1.1v1.1h-1.1z M220.34,68.81h1.1v1.1h-1.1z M219.53,69.67h1.1v1.1h-1.1z M225.07,77.17h1.1v1.1h-1.1z M213.83,64.22h1.1v1.1h-1.1z M232.4,70.39h1.1v1.1h-1.1z M216.68,62.85h1.1v1.1h-1.1z M232.2,70.23h1.1v1.1h-1.1z M240.45,73.77h1.1v1.1h-1.1z M209.54,56.5h1.1v1.1h-1.1z M221.28,57.26h1.1v1.1h-1.1z M228.72,69.77h1.1v1.1h-1.1z M225.95,70.43h1.1v1.1h-1.1z M232.17,73.17h1.1v1.1h-1.1z M234.44,74.81h1.1v1.1h-1.1z M225.94,64.09h1.1v1.1h-1.1z M217.73,59.09h1.1v1.1h-1.1z M216.13,61.43h1.1v1.1h-1.1z M233.14,76.45h1.1v1.1h-1.1z M213.25,62.25h1.1v1.1h-1.1z M234.68,77.88h1.1v1.1h-1.1z M219.98,62.3h1.1v1.1h-1.1z M234.68,67.68h1.1v1.1h-1.1z M211.85,49.71h1.1v1.1h-1.1z M222.55,70.11h1.1v1.1h-1.1z M226.14,63.63h1.1v1.1h-1.1z M229.87,64.89h1.1v1.1h-1.1z M227.38,73.84h1.1v1.1h-1.1z M228.44,67.5h1.1v1.1h-1.1z M230.14,68.6h1.1v1.1h-1.1z M233.74,71.81h1.1v1.1h-1.1z M225.39,69.97h1.1v1.1h-1.1z M214.8,59.58h1.1v1.1h-1.1z M217.49,65.42h1.1v1.1h-1.1z M219.46,67.27h1.1v1.1h-1.1z M218.86,64.11h1.1v1.1h-1.1z M220.89,57.76h1.1v1.1h-1.1z M224.69,66.17h1.1v1.1h-1.1z M211.46,49.91h1.1v1.1h-1.1z M227.21,67.38h1.1v1.1h-1.1z M218.47,66.91h1.1v1.1h-1.1z M232.48,70.41h1.1v1.1h-1.1z M221.5,60.5h1.1v1.1h-1.1z M232.2,67.14h1.1v1.1h-1.1z M214.31,58.86h1.1v1.1h-1.1z M225.52,72.41h1.1v1.1h-1.1z M219.57,68.93h1.1v1.1h-1.1z M215.07,53.33h1.1v1.1h-1.1z M229.11,71.26h1.1v1.1h-1.1z M215.49,63.24h1.1v1.1h-1.1z M236.3,78.25h1.1v1.1h-1.1z M219.25,68.54h1.1v1.1h-1.1z M227.87,68.67h1.1v1.1h-1.1z M221.05,58.05h1.1v1.1h-1.1z M238.5,76.88h1.1v1.1h-1.1z M226.26,60.15h1.1v1.1h-1.1z M210.97,57.98h1.1v1.1h-1.1z M223.88,63.33h1.1v1.1h-1.1z M238.82,71.38h1.1v1.1h-1.1z M228.01,63.07h1.1v1.1h-1.1z M222.2,60.2h1.1v1.1h-1.1z M235.32,68.6h1.1v1.1h-1.1z M225.31,69.86h1.1v1.1h-1.1z M232.38,71.45h1.1v1.1h-1.1z M224.07,69.17h1.1v1.1h-1.1z M221.55,63.48h1.1v1.1h-1.1z M217.02,64.03h1.1v1.1h-1.1z M217.11,60.71h1.1v1.1h-1.1z M235.99,77.81h1.1v1.1h-1.1z M230.92,70.7h1.1v1.1h-1.1z M211.07,52.8h1.1v1.1h-1.1z M225.39,63.63h1.1v1.1h-1.1z M228.86,68.3h1.1v1.1h-1.1z M231.23,66.24h1.1v1.1h-1.1z M237.14,70.75h1.1v1.1h-1.1z M237.24,75.76h1.1v1.1h-1.1z M224.66,66.07h1.1v1.1h-1.1z M221.49,65.54h1.1v1.1h-1.1z M219.51,67.38h1.1v1.1h-1.1z M213.86,60.43h1.1v1.1h-1.1z M228.96,74.68h1.1v1.1h-1.1z M225.78,73.87h1.1v1.1h-1.1z M220.94,55.65h1.1v1.1h-1.1z M233.01,72.61h1.1v1.1h-1.1z M215.46,54.07h1.1v1.1h-1.1z M239.73,72.37h1.1v1.1h-1.1z M226.3,71.43h1.1v1.1h-1.1z M227.44,61.2h1.1v1.1h-1.1z M227.24,64.22h1.1v1.1h-1.1z M222.77,67.45h1.1v1.1h-1.1z M236.85,76.21h1.1v1.1h-1.1z M215.77,55.99h1.1v1.1h-1.1z M224.63,72.2h1.1v1.1h-1.1z M221.35,60.57h1.1v1.1h-1.1z M236.18,72.84h1.1v1.1h-1.1z M226.23,63.4h1.1v1.1h-1.1z M218.03,59.12h1.1v1.1h-1.1z M221.01,62.18h1.1v1.1h-1.1z M222.08,70.42h1.1v1.1h-1.1z M223.55,65.84h1.1v1.1h-1.1z M212.68,52.84h1.1v1.1h-1.1z M217.67,67.22h1.1v1.1h-1.1z M233.39,78.53h1.1v1.1h-1.1z M225.54,67.82h1.1v1.1h-1.1z M229.49,62.83h1.1v1.1h-1.1z M218.67,60.65h1.1v1.1h-1.1z M215.76,54.44h1.1v1.1h-1.1z M235.47,74.49h1.1v1.1h-1.1z M210.66,57.22h1.1v1.1h-1.1z M231.6,67.79h1.1v1.1h-1.1z M210.89,59.46h1.1v1.1h-1.1z M227.86,76.45h1.1v1.1h-1.1z M240.3,75.93h1.1v1.1h-1.1z M223.47,57.66h1.1v1.1h-1.1z M236.3,69.64h1.1v1.1h-1.1z M224.05,71.4h1.1v1.1h-1.1z M235.41,75.36h1.1v1.1h-1.1z M221.21,61.64h1.1v1.1h-1.1z M222,61.46h1.1v1.1h-1.1z M200.96,82.8h1.1v1.1h-1.1z M213.24,33.38h1.1v1.1h-1.1z M261.27,92.97h1.1v1.1h-1.1z M208.94,60.31h1.1v1.1h-1.1z M266.32,67.49h1.1v1.1h-1.1z M241.32,35.92h1.1v1.1h-1.1z M243.56,38.88h1.1v1.1h-1.1z M254.92,69.28h1.1v1.1h-1.1z M256.05,28.89h1.1v1.1h-1.1z M219.49,87.42h1.1v1.1h-1.1z M236.61,54.19h1.1v1.1h-1.1z M200.86,78.36h1.1v1.1h-1.1z M217.08,32.75h1.1v1.1h-1.1z M267.3,47.58h1.1v1.1h-1.1z M222.65,60.9h1.1v1.1h-1.1z M235.37,76.92h1.1v1.1h-1.1z M207.42,42.93h1.1v1.1h-1.1z M249.02,62.32h1.1v1.1h-1.1z M208.23,52.67h1.1v1.1h-1.1z M211.41,54.92h1.1v1.1h-1.1z M207.31,52.79h1.1v1.1h-1.1z M208.54,49.71h1.1v1.1h-1.1z M207.73,48.97h1.1v1.1h-1.1z M205.86,50.42h1.1v1.1h-1.1z M209.29,55.04h1.1v1.1h-1.1z M206.37,55.35h1.1v1.1h-1.1z M208.27,55.03h1.1v1.1h-1.1z M210.21,52.75h1.1v1.1h-1.1z M205.14,54.41h1.1v1.1h-1.1z M206.13,52.79h1.1v1.1h-1.1z M206.52,53.19h1.1v1.1h-1.1z M207.37,48.61h1.1v1.1h-1.1z M205.86,54.12h1.1v1.1h-1.1z M205.02,49.02h1.1v1.1h-1.1z M207.55,51h1.1v1.1h-1.1z M208.01,49.01h1.1v1.1h-1.1z M208.22,50.09h1.1v1.1h-1.1z M206.44,55.38h1.1v1.1h-1.1z M209.5,49.87h1.1v1.1h-1.1z M209.32,53.42h1.1v1.1h-1.1z M206.69,50.54h1.1v1.1h-1.1z M206.42,50.16h1.1v1.1h-1.1z M206.57,53.12h1.1v1.1h-1.1z M206.4,53.83h1.1v1.1h-1.1z M204.58,49.68h1.1v1.1h-1.1z M207.77,49.79h1.1v1.1h-1.1z M205.84,51.25h1.1v1.1h-1.1z M203.82,51.98h1.1v1.1h-1.1z M208.49,52.14h1.1v1.1h-1.1z M206.5,53.72h1.1v1.1h-1.1z M208.16,49.99h1.1v1.1h-1.1z M211.71,54.97h1.1v1.1h-1.1z M205.38,49.87h1.1v1.1h-1.1z M205.74,51.28h1.1v1.1h-1.1z M206.23,50.76h1.1v1.1h-1.1z M206.82,49.84h1.1v1.1h-1.1z M207.44,53.31h1.1v1.1h-1.1z M208,52.18h1.1v1.1h-1.1z M204.52,54.7h1.1v1.1h-1.1z M204.51,50.67h1.1v1.1h-1.1z M208.25,50.05h1.1v1.1h-1.1z M203.94,50.97h1.1v1.1h-1.1z M207.93,53.36h1.1v1.1h-1.1z M207.34,50.53h1.1v1.1h-1.1z M207.53,50.25h1.1v1.1h-1.1z M209.07,54.72h1.1v1.1h-1.1z M205.71,49.24h1.1v1.1h-1.1z M208.48,52.84h1.1v1.1h-1.1z M206.82,50.81h1.1v1.1h-1.1z M209.05,52.93h1.1v1.1h-1.1z M204.11,50.6h1.1v1.1h-1.1z M207.37,48.6h1.1v1.1h-1.1z M205.5,51.18h1.1v1.1h-1.1z M211.01,54.3h1.1v1.1h-1.1z M208.17,50.59h1.1v1.1h-1.1z M204.95,55.08h1.1v1.1h-1.1z M210,51.99h1.1v1.1h-1.1z M206.32,49.76h1.1v1.1h-1.1z M205.53,49.32h1.1v1.1h-1.1z M208.93,52.4h1.1v1.1h-1.1z M206.36,53.09h1.1v1.1h-1.1z M204.72,51.51h1.1v1.1h-1.1z M209.34,52.99h1.1v1.1h-1.1z M205.42,54.8h1.1v1.1h-1.1z M208.38,48.72h1.1v1.1h-1.1z M202.65,54.65h1.1v1.1h-1.1z M207.74,51.16h1.1v1.1h-1.1z M243.69,54.73h1.1v1.1h-1.1z M248.75,54.24h1.1v1.1h-1.1z M243.36,53.29h1.1v1.1h-1.1z M245.63,55.94h1.1v1.1h-1.1z M245.29,49.03h1.1v1.1h-1.1z M244,57.12h1.1v1.1h-1.1z M244.62,54.07h1.1v1.1h-1.1z M246.03,58.69h1.1v1.1h-1.1z M243.57,58.98h1.1v1.1h-1.1z M246.98,50.36h1.1v1.1h-1.1z M246.12,56.48h1.1v1.1h-1.1z M246.73,51.99h1.1v1.1h-1.1z M243.25,51.92h1.1v1.1h-1.1z M244.31,56.52h1.1v1.1h-1.1z M249.94,55.54h1.1v1.1h-1.1z M242.33,54.96h1.1v1.1h-1.1z M248.85,52.84h1.1v1.1h-1.1z M249.24,54.99h1.1v1.1h-1.1z M246.17,55.6h1.1v1.1h-1.1z M238.48,56.31h1.1v1.1h-1.1z M240.29,58.01h1.1v1.1h-1.1z M245.57,56.71h1.1v1.1h-1.1z M242.49,50.51h1.1v1.1h-1.1z M242.18,58.64h1.1v1.1h-1.1z M237.65,58.89h1.1v1.1h-1.1z M248.23,53.44h1.1v1.1h-1.1z M243.58,55.84h1.1v1.1h-1.1z M242.43,54.88h1.1v1.1h-1.1z M243.01,55.96h1.1v1.1h-1.1z M239.38,54.78h1.1v1.1h-1.1z M246.75,53.8h1.1v1.1h-1.1z M248.84,59.91h1.1v1.1h-1.1z M243.76,56.19h1.1v1.1h-1.1z M246.72,53h1.1v1.1h-1.1z M243.36,59.05h1.1v1.1h-1.1z M246.12,57.43h1.1v1.1h-1.1z M246.05,56.12h1.1v1.1h-1.1z M241.24,56.02h1.1v1.1h-1.1z M238.26,54.63h1.1v1.1h-1.1z M247.25,55.91h1.1v1.1h-1.1z M243.2,53.68h1.1v1.1h-1.1z M244.33,52.58h1.1v1.1h-1.1z M247.99,57.69h1.1v1.1h-1.1z M244.46,57.7h1.1v1.1h-1.1z M243.7,54.53h1.1v1.1h-1.1z M245.93,56.7h1.1v1.1h-1.1z M246.82,56.79h1.1v1.1h-1.1z M245.85,56.67h1.1v1.1h-1.1z M249.99,54.09h1.1v1.1h-1.1z M241.71,57.95h1.1v1.1h-1.1z M245.62,58.74h1.1v1.1h-1.1z M246.01,59.17h1.1v1.1h-1.1z M249.56,57.49h1.1v1.1h-1.1z M240.39,57.77h1.1v1.1h-1.1z M243.4,55.72h1.1v1.1h-1.1z M245.71,57.26h1.1v1.1h-1.1z M239.6,57.1h1.1v1.1h-1.1z M234.63,54.32h1.1v1.1h-1.1z M244.15,56.58h1.1v1.1h-1.1z M243.6,55.67h1.1v1.1h-1.1z M243.35,54.52h1.1v1.1h-1.1z M246.73,56.27h1.1v1.1h-1.1z M247.72,54.06h1.1v1.1h-1.1z M250.36,59.92h1.1v1.1h-1.1z M239.23,56.09h1.1v1.1h-1.1z M247.78,54.27h1.1v1.1h-1.1z M245.81,54.63h1.1v1.1h-1.1z M242.6,52.97h1.1v1.1h-1.1z M245.53,52.68h1.1v1.1h-1.1z M243.65,55.21h1.1v1.1h-1.1z M243.49,55.94h1.1v1.1h-1.1z M244.29,54.22h1.1v1.1h-1.1z M240.38,50.05h1.1v1.1h-1.1z M240.51,56.45h1.1v1.1h-1.1z M245.87,52.77h1.1v1.1h-1.1z M239.88,54.48h1.1v1.1h-1.1z M243.82,55.82h1.1v1.1h-1.1z M240.52,56.45h1.1v1.1h-1.1z M240.29,55.81h1.1v1.1h-1.1z M250.1,54.91h1.1v1.1h-1.1z M243,59.07h1.1v1.1h-1.1z M243.37,56.81h1.1v1.1h-1.1z M246.98,60.96h1.1v1.1h-1.1z M249.23,54.5h1.1v1.1h-1.1z M241.49,55.02h1.1v1.1h-1.1z M242.35,57.69h1.1v1.1h-1.1z M246.4,56.17h1.1v1.1h-1.1z M240.58,54.97h1.1v1.1h-1.1z M246.64,58.16h1.1v1.1h-1.1z M246.71,58.62h1.1v1.1h-1.1z" fill="#555"/>
<line x1="197.3" y1="25" x2="197.3" y2="98.5" stroke="#333" stroke-width="0.8" />
<line x1="196.9" y1="98" x2="270.5" y2="98" stroke="#333" stroke-width="0.8" />
<line x1="195.8" y1="98" x2="197.3" y2="98" stroke="#333" stroke-width="0.5" />
<line x1="197.3" y1="98" x2="197.3" y2="99.5" stroke="#333" stroke-width="0.5" />
<line x1="195.8" y1="83.4" x2="197.3" y2="83.4" stroke="#333" stroke-width="0.5" />
<line x1="211.9" y1="98" x2="211.9" y2="99.5" stroke="#333" stroke-width="0.5" />
<line x1="195.8" y1="68.8" x2="197.3" y2="68.8" stroke="#333" stroke-width="0.5" />
<line x1="226.5" y1="98" x2="226.5" y2="99.5" stroke="#333" stroke-width="0.5" />
<line x1="195.8" y1="54.2" x2="197.3" y2="54.2" stroke="#333" stroke-width="0.5" />
<line x1="241.1" y1="98" x2="241.1" y2="99.5" stroke="#333" stroke-width="0.5" />
<line x1="195.8" y1="39.6" x2="197.3" y2="39.6" stroke="#333" stroke-width="0.5" />
<line x1="255.7" y1="98" x2="255.7" y2="99.5" stroke="#333" stroke-width="0.5" />
<line x1="195.8" y1="25" x2="197.3" y2="25" stroke="#333" stroke-width="0.5" />
<line x1="270.3" y1="98" x2="270.3" y2="99.5" stroke="#333" stroke-width="0.5" />
<line x1="229.8" y1="57" x2="246.5" y2="25" stroke="#555" stroke-width="0.7" />
<line x1="227.5" y1="77.9" x2="270.5" y2="47.7" stroke="#555" stroke-width="0.7" />
<text x="246" y="35.2" font-size="8" fill="#222" textLength="22.3" lengthAdjust="spacingAndGlyphs" >0.03%</text>
<text x="193.6" y="61.5" font-size="6.9" fill="#222" font-weight="bold" text-anchor="middle" textLength="81" lengthAdjust="spacingAndGlyphs" transform="rotate(-90 193.6 61.5)" >A2-SLL multimer-APC</text>
<text x="234.9" y="107.6" font-size="8.2" fill="#222" font-weight="bold" stroke="#222" stroke-width="0.12" text-anchor="middle" textLength="70" lengthAdjust="spacingAndGlyphs" >A2-SLL multimer-PE</text>
<g stroke="#111" stroke-width="1.2" fill="none"><path d="M274.4,68.2 L288.6,68.2 M284.6,64.4 L288.8,68.2 L284.6,72"/></g>
<path d="M280.2,20.2 L399.8,20.2 L340.1,117.6 Z" fill="none" stroke="#6e6e6e" stroke-width="1.1" stroke-linejoin="miter"/>
<line x1="287.86" y1="32.7" x2="392.14" y2="32.7" stroke="#6e6e6e" stroke-width="1.1" />
<line x1="295.89" y1="45.8" x2="384.11" y2="45.8" stroke="#6e6e6e" stroke-width="1.1" />
<line x1="310.59" y1="69.8" x2="369.41" y2="69.8" stroke="#6e6e6e" stroke-width="1.1" />
<line x1="323.83" y1="91.4" x2="356.17" y2="91.4" stroke="#6e6e6e" stroke-width="1.1" />
<text x="340" y="28.9" font-size="7.2" fill="#333" text-anchor="middle" textLength="54.3" lengthAdjust="spacingAndGlyphs"><tspan font-weight="bold">53</tspan> TCRs identified</text>
<text x="340" y="42" font-size="7.2" fill="#333" text-anchor="middle" textLength="54" lengthAdjust="spacingAndGlyphs"><tspan font-weight="bold">30</tspan> TCRs analyzed</text>
<text x="340" y="52.7" font-size="7.2" fill="#333" text-anchor="middle" textLength="51.2" lengthAdjust="spacingAndGlyphs"><tspan font-weight="bold">12</tspan> TCRs showing</text>
<text x="340" y="59.2" font-size="7.2" fill="#333" text-anchor="middle" textLength="46.6" lengthAdjust="spacingAndGlyphs">promising tumor</text>
<text x="340" y="65.7" font-size="7.2" fill="#333" text-anchor="middle" textLength="44.5" lengthAdjust="spacingAndGlyphs">cell recognition</text>
<text x="340" y="80" font-size="7.2" fill="#333" text-anchor="middle" textLength="16.6" lengthAdjust="spacingAndGlyphs"><tspan font-weight="bold">4</tspan> lead</text>
<text x="340" y="86.6" font-size="7.2" fill="#333" text-anchor="middle" textLength="31.9" lengthAdjust="spacingAndGlyphs">candidates</text>
<text x="340" y="99.3" font-size="7.2" fill="#333" text-anchor="middle" textLength="17.5" lengthAdjust="spacingAndGlyphs"><tspan font-weight="bold">1</tspan> lead</text>
<text x="340" y="105.5" font-size="7.2" fill="#333" text-anchor="middle" textLength="12.5" lengthAdjust="spacingAndGlyphs">TCR</text>
<text x="400.3" y="14.4" font-size="11" fill="#111" stroke="#111" stroke-width="0.3">B</text>
<line x1="434.3" y1="11.1" x2="434.3" y2="104.9" stroke="#111" stroke-width="0.9" />
<line x1="432.3" y1="104.5" x2="434.3" y2="104.5" stroke="#111" stroke-width="0.8" />
<text x="431.5" y="106.8" font-size="6.6" fill="#111" font-weight="bold" text-anchor="end" >0</text>
<line x1="432.3" y1="81.25" x2="434.3" y2="81.25" stroke="#111" stroke-width="0.8" />
<text x="431.5" y="83.55" font-size="6.6" fill="#111" font-weight="bold" text-anchor="end" >25</text>
<line x1="432.3" y1="58" x2="434.3" y2="58" stroke="#111" stroke-width="0.8" />
<text x="431.5" y="60.3" font-size="6.6" fill="#111" font-weight="bold" text-anchor="end" >50</text>
<line x1="432.3" y1="34.75" x2="434.3" y2="34.75" stroke="#111" stroke-width="0.8" />
<text x="431.5" y="37.05" font-size="6.6" fill="#111" font-weight="bold" text-anchor="end" >75</text>
<line x1="432.3" y1="11.5" x2="434.3" y2="11.5" stroke="#111" stroke-width="0.8" />
<text x="431.5" y="13.8" font-size="6.6" fill="#111" font-weight="bold" text-anchor="end" >100</text>
<line x1="434.3" y1="58" x2="536" y2="58" stroke="#b4b4b4" stroke-width="0.9" />
<line x1="433.9" y1="104.5" x2="536.4" y2="104.5" stroke="#111" stroke-width="0.9" />
<line x1="434.3" y1="104.5" x2="434.3" y2="106.7" stroke="#111" stroke-width="0.8" />
<line x1="451.25" y1="104.5" x2="451.25" y2="106.7" stroke="#111" stroke-width="0.8" />
<line x1="468.2" y1="104.5" x2="468.2" y2="106.7" stroke="#111" stroke-width="0.8" />
<line x1="485.15" y1="104.5" x2="485.15" y2="106.7" stroke="#111" stroke-width="0.8" />
<line x1="502.1" y1="104.5" x2="502.1" y2="106.7" stroke="#111" stroke-width="0.8" />
<line x1="519.05" y1="104.5" x2="519.05" y2="106.7" stroke="#111" stroke-width="0.8" />
<line x1="536" y1="104.5" x2="536" y2="106.7" stroke="#111" stroke-width="0.8" />
<text x="416.4" y="58.3" font-size="8" fill="#111" font-weight="bold" stroke="#111" stroke-width="0.12" text-anchor="middle" textLength="97.8" lengthAdjust="spacingAndGlyphs" transform="rotate(-90 416.4 58.3)" >Relative IFN-γ release [%]</text>
<text x="434.3" y="116.4" font-size="7.4" font-weight="bold" fill="#111" text-anchor="middle" stroke="#111" stroke-width="0.1">10<tspan font-size="4.4" dy="-3" stroke-width="0">-11</tspan></text>
<text x="451.25" y="116.4" font-size="7.4" font-weight="bold" fill="#111" text-anchor="middle" stroke="#111" stroke-width="0.1">10<tspan font-size="4.4" dy="-3" stroke-width="0">-10</tspan></text>
<text x="468.2" y="116.4" font-size="7.4" font-weight="bold" fill="#111" text-anchor="middle" stroke="#111" stroke-width="0.1">10<tspan font-size="4.4" dy="-3" stroke-width="0">-9</tspan></text>
<text x="485.15" y="116.4" font-size="7.4" font-weight="bold" fill="#111" text-anchor="middle" stroke="#111" stroke-width="0.1">10<tspan font-size="4.4" dy="-3" stroke-width="0">-8</tspan></text>
<text x="502.1" y="116.4" font-size="7.4" font-weight="bold" fill="#111" text-anchor="middle" stroke="#111" stroke-width="0.1">10<tspan font-size="4.4" dy="-3" stroke-width="0">-7</tspan></text>
<text x="519.05" y="116.4" font-size="7.4" font-weight="bold" fill="#111" text-anchor="middle" stroke="#111" stroke-width="0.1">10<tspan font-size="4.4" dy="-3" stroke-width="0">-6</tspan></text>
<text x="536" y="116.4" font-size="7.4" font-weight="bold" fill="#111" text-anchor="middle" stroke="#111" stroke-width="0.1">10<tspan font-size="4.4" dy="-3" stroke-width="0">-5</tspan></text>
<text x="488" y="125.2" font-size="8.4" fill="#111" font-weight="bold" stroke="#111" stroke-width="0.12" text-anchor="middle" textLength="100.5" lengthAdjust="spacingAndGlyphs" >Peptide concentration [M]</text>
<polyline points="434.3,104.5 435.15,104.5 436.01,104.5 436.86,104.5 437.72,104.5 438.57,104.5 439.43,104.5 440.28,104.5 441.14,104.5 441.99,104.5 442.85,104.5 443.7,104.5 444.56,104.5 445.41,104.5 446.26,104.5 447.12,104.5 447.97,104.5 448.83,104.5 449.68,104.5 450.54,104.5 451.39,104.5 452.25,104.5 453.1,104.5 453.96,104.5 454.81,104.5 455.67,104.5 456.52,104.5 457.37,104.5 458.23,104.5 459.08,104.5 459.94,104.5 460.79,104.5 461.65,104.5 462.5,104.5 463.36,104.5 464.21,104.5 465.07,104.5 465.92,104.5 466.78,104.5 467.63,104.5 468.48,104.5 469.34,104.5 470.19,104.5 471.05,104.5 471.9,104.5 472.76,104.5 473.61,104.5 474.47,104.5 475.32,104.5 476.18,104.5 477.03,104.5 477.89,104.49 478.74,104.49 479.59,104.49 480.45,104.49 481.3,104.48 482.16,104.47 483.01,104.46 483.87,104.45 484.72,104.43 485.58,104.4 486.43,104.36 487.29,104.3 488.14,104.23 489,104.12 489.85,103.98 490.71,103.78 491.56,103.5 492.41,103.13 493.27,102.61 494.12,101.9 494.98,100.94 495.83,99.65 496.69,97.92 497.54,95.63 498.4,92.65 499.25,88.87 500.11,84.18 500.96,78.55 501.82,72.06 502.67,64.9 503.52,57.4 504.38,49.92 505.23,42.85 506.09,36.49 506.94,31.01 507.8,26.47 508.65,22.82 509.51,19.96 510.36,17.77 511.22,16.12 512.07,14.88 512.93,13.97 513.78,13.3 514.63,12.81 515.49,12.45 516.34,12.19 517.2,12 518.05,11.86 518.91,11.76 519.76,11.69 520.62,11.64 521.47,11.6 522.33,11.57 523.18,11.55 524.04,11.54 524.89,11.53 525.74,11.52 526.6,11.51 527.45,11.51 528.31,11.51 529.16,11.51 530.02,11.5 530.87,11.5 531.73,11.5 532.58,11.5 533.44,11.5 534.29,11.5 535.15,11.5 536,11.5" fill="none" stroke="#2aa4f0" stroke-width="1.2" stroke-linejoin="round" />
<polyline points="434.3,104.5 435.15,104.5 436.01,104.5 436.86,104.5 437.72,104.5 438.57,104.5 439.43,104.5 440.28,104.5 441.14,104.5 441.99,104.5 442.85,104.5 443.7,104.5 444.56,104.5 445.41,104.5 446.26,104.5 447.12,104.5 447.97,104.5 448.83,104.5 449.68,104.5 450.54,104.5 451.39,104.5 452.25,104.5 453.1,104.5 453.96,104.5 454.81,104.5 455.67,104.49 456.52,104.49 457.37,104.49 458.23,104.49 459.08,104.49 459.94,104.49 460.79,104.48 461.65,104.48 462.5,104.48 463.36,104.47 464.21,104.47 465.07,104.46 465.92,104.45 466.78,104.45 467.63,104.43 468.48,104.42 469.34,104.41 470.19,104.39 471.05,104.36 471.9,104.34 472.76,104.31 473.61,104.27 474.47,104.22 475.32,104.17 476.18,104.1 477.03,104.03 477.89,103.93 478.74,103.82 479.59,103.69 480.45,103.53 481.3,103.34 482.16,103.12 483.01,102.85 483.87,102.53 484.72,102.15 485.58,101.7 486.43,101.17 487.29,100.54 488.14,99.8 489,98.93 489.85,97.91 490.71,96.72 491.56,95.34 492.41,93.74 493.27,91.9 494.12,89.81 494.98,87.44 495.83,84.79 496.69,81.85 497.54,78.62 498.4,75.12 499.25,71.38 500.11,67.44 500.96,63.35 501.82,59.17 502.67,54.97 503.52,50.81 504.38,46.77 505.23,42.89 506.09,39.22 506.94,35.81 507.8,32.68 508.65,29.83 509.51,27.27 510.36,25 511.22,22.99 512.07,21.24 512.93,19.71 513.78,18.4 514.63,17.26 515.49,16.3 516.34,15.47 517.2,14.77 518.05,14.18 518.91,13.67 519.76,13.25 520.62,12.89 521.47,12.59 522.33,12.34 523.18,12.13 524.04,11.95 524.89,11.8 525.74,11.67 526.6,11.57 527.45,11.48 528.31,11.41 529.16,11.35 530.02,11.3 530.87,11.25 531.73,11.22 532.58,11.19 533.44,11.16 534.29,11.14 535.15,11.12 536,11.11" fill="none" stroke="#12e012" stroke-width="1.2" stroke-linejoin="round" />
<polyline points="434.3,104.45 435.15,104.44 436.01,104.43 436.86,104.43 437.72,104.42 438.57,104.41 439.43,104.39 440.28,104.38 441.14,104.37 441.99,104.35 442.85,104.33 443.7,104.31 444.56,104.29 445.41,104.26 446.26,104.23 447.12,104.2 447.97,104.16 448.83,104.12 449.68,104.08 450.54,104.03 451.39,103.97 452.25,103.9 453.1,103.83 453.96,103.75 454.81,103.66 455.67,103.55 456.52,103.44 457.37,103.31 458.23,103.16 459.08,103 459.94,102.82 460.79,102.62 461.65,102.39 462.5,102.14 463.36,101.85 464.21,101.54 465.07,101.19 465.92,100.8 466.78,100.36 467.63,99.88 468.48,99.34 469.34,98.74 470.19,98.08 471.05,97.35 471.9,96.55 472.76,95.66 473.61,94.69 474.47,93.62 475.32,92.45 476.18,91.18 477.03,89.8 477.89,88.3 478.74,86.69 479.59,84.96 480.45,83.1 481.3,81.12 482.16,79.03 483.01,76.82 483.87,74.51 484.72,72.1 485.58,69.6 486.43,67.03 487.29,64.39 488.14,61.71 489,59.01 489.85,56.3 490.71,53.6 491.56,50.92 492.41,48.29 493.27,45.72 494.12,43.23 494.98,40.83 495.83,38.52 496.69,36.33 497.54,34.24 498.4,32.28 499.25,30.43 500.11,28.71 500.96,27.1 501.82,25.62 502.67,24.24 503.52,22.98 504.38,21.82 505.23,20.76 506.09,19.8 506.94,18.92 507.8,18.12 508.65,17.4 509.51,16.74 510.36,16.15 511.22,15.62 512.07,15.14 512.93,14.7 513.78,14.32 514.63,13.97 515.49,13.66 516.34,13.38 517.2,13.12 518.05,12.9 518.91,12.7 519.76,12.52 520.62,12.36 521.47,12.22 522.33,12.09 523.18,11.97 524.04,11.87 524.89,11.78 525.74,11.7 526.6,11.63 527.45,11.56 528.31,11.51 529.16,11.45 530.02,11.41 530.87,11.37 531.73,11.33 532.58,11.3 533.44,11.27 534.29,11.24 535.15,11.22 536,11.2" fill="none" stroke="#ff1c1c" stroke-width="1.2" stroke-linejoin="round" />
<polyline points="434.3,104.35 435.15,104.34 436.01,104.32 436.86,104.3 437.72,104.27 438.57,104.25 439.43,104.22 440.28,104.18 441.14,104.15 441.99,104.1 442.85,104.06 443.7,104.01 444.56,103.95 445.41,103.89 446.26,103.82 447.12,103.74 447.97,103.65 448.83,103.55 449.68,103.44 450.54,103.32 451.39,103.18 452.25,103.03 453.1,102.86 453.96,102.67 454.81,102.47 455.67,102.24 456.52,101.98 457.37,101.69 458.23,101.38 459.08,101.03 459.94,100.64 460.79,100.21 461.65,99.73 462.5,99.21 463.36,98.63 464.21,97.99 465.07,97.29 465.92,96.53 466.78,95.68 467.63,94.76 468.48,93.76 469.34,92.66 470.19,91.48 471.05,90.19 471.9,88.8 472.76,87.31 473.61,85.71 474.47,84 475.32,82.18 476.18,80.25 477.03,78.22 477.89,76.08 478.74,73.86 479.59,71.54 480.45,69.15 481.3,66.7 482.16,64.19 483.01,61.65 483.87,59.08 484.72,56.5 485.58,53.93 486.43,51.39 487.29,48.88 488.14,46.42 489,44.03 489.85,41.72 490.71,39.49 491.56,37.35 492.41,35.32 493.27,33.39 494.12,31.57 494.98,29.86 495.83,28.25 496.69,26.76 497.54,25.37 498.4,24.08 499.25,22.89 500.11,21.79 500.96,20.79 501.82,19.87 502.67,19.02 503.52,18.25 504.38,17.55 505.23,16.91 506.09,16.33 506.94,15.81 507.8,15.33 508.65,14.9 509.51,14.51 510.36,14.16 511.22,13.85 512.07,13.56 512.93,13.3 513.78,13.07 514.63,12.86 515.49,12.68 516.34,12.51 517.2,12.36 518.05,12.22 518.91,12.1 519.76,11.99 520.62,11.89 521.47,11.8 522.33,11.72 523.18,11.65 524.04,11.59 524.89,11.53 525.74,11.48 526.6,11.43 527.45,11.39 528.31,11.35 529.16,11.32 530.02,11.29 530.87,11.26 531.73,11.24 532.58,11.22 533.44,11.2 534.29,11.18 535.15,11.17 536,11.15" fill="none" stroke="#000" stroke-width="1.2" stroke-linejoin="round" />
<line x1="468.2" y1="98.92" x2="468.2" y2="99.85" stroke="#666" stroke-width="0.7" />
<line x1="467.1" y1="99.85" x2="469.3" y2="99.85" stroke="#666" stroke-width="0.7" />
<line x1="468.2" y1="98.92" x2="468.2" y2="98.36" stroke="#666" stroke-width="0.7" />
<line x1="467.1" y1="98.36" x2="469.3" y2="98.36" stroke="#666" stroke-width="0.7" />
<line x1="485.15" y1="55.21" x2="485.15" y2="58.93" stroke="#666" stroke-width="0.7" />
<line x1="484.05" y1="58.93" x2="486.25" y2="58.93" stroke="#666" stroke-width="0.7" />
<line x1="485.15" y1="55.21" x2="485.15" y2="52.98" stroke="#666" stroke-width="0.7" />
<line x1="484.05" y1="52.98" x2="486.25" y2="52.98" stroke="#666" stroke-width="0.7" />
<line x1="502.1" y1="27.31" x2="502.1" y2="31.96" stroke="#666" stroke-width="0.7" />
<line x1="501" y1="31.96" x2="503.2" y2="31.96" stroke="#666" stroke-width="0.7" />
<line x1="502.1" y1="27.31" x2="502.1" y2="24.52" stroke="#666" stroke-width="0.7" />
<line x1="501" y1="24.52" x2="503.2" y2="24.52" stroke="#666" stroke-width="0.7" />
<line x1="485.15" y1="69.16" x2="485.15" y2="74.74" stroke="#ff8080" stroke-width="0.7" />
<line x1="484.05" y1="74.74" x2="486.25" y2="74.74" stroke="#ff8080" stroke-width="0.7" />
<line x1="485.15" y1="69.16" x2="485.15" y2="65.81" stroke="#ff8080" stroke-width="0.7" />
<line x1="484.05" y1="65.81" x2="486.25" y2="65.81" stroke="#ff8080" stroke-width="0.7" />
<line x1="502.1" y1="32.89" x2="502.1" y2="38.47" stroke="#ff8080" stroke-width="0.7" />
<line x1="501" y1="38.47" x2="503.2" y2="38.47" stroke="#ff8080" stroke-width="0.7" />
<line x1="502.1" y1="32.89" x2="502.1" y2="29.54" stroke="#ff8080" stroke-width="0.7" />
<line x1="501" y1="29.54" x2="503.2" y2="29.54" stroke="#ff8080" stroke-width="0.7" />
<line x1="519.05" y1="11.5" x2="519.05" y2="12.43" stroke="#ff8080" stroke-width="0.7" />
<line x1="517.95" y1="12.43" x2="520.15" y2="12.43" stroke="#ff8080" stroke-width="0.7" />
<line x1="519.05" y1="11.5" x2="519.05" y2="10.94" stroke="#ff8080" stroke-width="0.7" />
<line x1="517.95" y1="10.94" x2="520.15" y2="10.94" stroke="#ff8080" stroke-width="0.7" />
<line x1="536" y1="15.22" x2="536" y2="26.38" stroke="#ff8080" stroke-width="0.7" />
<line x1="534.9" y1="26.38" x2="537.1" y2="26.38" stroke="#ff8080" stroke-width="0.7" />
<line x1="536" y1="15.22" x2="536" y2="8.52" stroke="#ff8080" stroke-width="0.7" />
<line x1="534.9" y1="8.52" x2="537.1" y2="8.52" stroke="#ff8080" stroke-width="0.7" />
<line x1="519.05" y1="18.94" x2="519.05" y2="25.45" stroke="#80e880" stroke-width="0.7" />
<line x1="517.95" y1="25.45" x2="520.15" y2="25.45" stroke="#80e880" stroke-width="0.7" />
<line x1="519.05" y1="18.94" x2="519.05" y2="15.03" stroke="#80e880" stroke-width="0.7" />
<line x1="517.95" y1="15.03" x2="520.15" y2="15.03" stroke="#80e880" stroke-width="0.7" />
<line x1="536" y1="11.5" x2="536" y2="15.22" stroke="#80e880" stroke-width="0.7" />
<line x1="534.9" y1="15.22" x2="537.1" y2="15.22" stroke="#80e880" stroke-width="0.7" />
<line x1="536" y1="11.5" x2="536" y2="9.27" stroke="#80e880" stroke-width="0.7" />
<line x1="534.9" y1="9.27" x2="537.1" y2="9.27" stroke="#80e880" stroke-width="0.7" />
<line x1="502.1" y1="64.51" x2="502.1" y2="69.16" stroke="#90c8f0" stroke-width="0.7" />
<line x1="501" y1="69.16" x2="503.2" y2="69.16" stroke="#90c8f0" stroke-width="0.7" />
<line x1="502.1" y1="64.51" x2="502.1" y2="61.72" stroke="#90c8f0" stroke-width="0.7" />
<line x1="501" y1="61.72" x2="503.2" y2="61.72" stroke="#90c8f0" stroke-width="0.7" />
<line x1="536" y1="18.01" x2="536" y2="25.45" stroke="#90c8f0" stroke-width="0.7" />
<line x1="534.9" y1="25.45" x2="537.1" y2="25.45" stroke="#90c8f0" stroke-width="0.7" />
<line x1="536" y1="18.01" x2="536" y2="13.55" stroke="#90c8f0" stroke-width="0.7" />
<line x1="534.9" y1="13.55" x2="537.1" y2="13.55" stroke="#90c8f0" stroke-width="0.7" />
<circle cx="434.3" cy="104.5" r="2.3" fill="#000" />
<circle cx="451.25" cy="104.5" r="2.3" fill="#000" />
<circle cx="468.2" cy="98.92" r="2.3" fill="#000" />
<circle cx="485.15" cy="55.21" r="2.3" fill="#000" />
<circle cx="502.1" cy="27.31" r="2.3" fill="#000" />
<circle cx="519.05" cy="11.5" r="2.3" fill="#000" />
<circle cx="536" cy="11.5" r="2.3" fill="#000" />
<circle cx="434.3" cy="104.5" r="2.3" fill="#2aa4f0" />
<circle cx="451.25" cy="104.5" r="2.3" fill="#2aa4f0" />
<circle cx="468.2" cy="104.5" r="2.3" fill="#2aa4f0" />
<circle cx="485.15" cy="104.5" r="2.3" fill="#2aa4f0" />
<circle cx="502.1" cy="64.51" r="2.3" fill="#2aa4f0" />
<circle cx="519.05" cy="12.43" r="2.3" fill="#2aa4f0" />
<circle cx="536" cy="18.01" r="2.3" fill="#2aa4f0" />
<circle cx="434.3" cy="104.5" r="2.3" fill="#ff1c1c" />
<circle cx="451.25" cy="104.5" r="2.3" fill="#ff1c1c" />
<circle cx="468.2" cy="103.57" r="2.3" fill="#ff1c1c" />
<circle cx="485.15" cy="69.16" r="2.3" fill="#ff1c1c" />
<circle cx="502.1" cy="32.89" r="2.3" fill="#ff1c1c" />
<circle cx="519.05" cy="11.5" r="2.3" fill="#ff1c1c" />
<circle cx="536" cy="15.22" r="2.3" fill="#ff1c1c" />
<circle cx="434.3" cy="103.57" r="2.3" fill="#12e012" />
<circle cx="451.25" cy="103.57" r="2.3" fill="#12e012" />
<circle cx="468.2" cy="104.5" r="2.3" fill="#12e012" />
<circle cx="485.15" cy="102.64" r="2.3" fill="#12e012" />
<circle cx="502.1" cy="57.07" r="2.3" fill="#12e012" />
<circle cx="519.05" cy="18.94" r="2.3" fill="#12e012" />
<circle cx="536" cy="11.5" r="2.3" fill="#12e012" />
<line x1="439.2" y1="14.5" x2="442.8" y2="14.5" stroke="#000" stroke-width="1" />
<text x="445" y="17.1" font-size="7.6" fill="#333" textLength="36.5" lengthAdjust="spacingAndGlyphs" >TCR-027-004</text>
<line x1="439.2" y1="20.1" x2="442.8" y2="20.1" stroke="#ff1c1c" stroke-width="1" />
<text x="445" y="22.7" font-size="7.6" fill="#333" textLength="36.5" lengthAdjust="spacingAndGlyphs" >TCR-027-085</text>
<line x1="439.2" y1="26.3" x2="442.8" y2="26.3" stroke="#12e012" stroke-width="1" />
<text x="445" y="28.9" font-size="7.6" fill="#333" textLength="36.5" lengthAdjust="spacingAndGlyphs" >TCR-038-038</text>
<line x1="439.2" y1="31.9" x2="442.8" y2="31.9" stroke="#2aa4f0" stroke-width="1" />
<text x="445" y="34.5" font-size="7.6" fill="#333" textLength="36.5" lengthAdjust="spacingAndGlyphs" >TCR-061-119</text>
<text x="7.3" y="139.2" font-size="10.8" fill="#111" stroke="#111" stroke-width="0.3">C</text>
<line x1="43.6" y1="143.9" x2="43.6" y2="225.9" stroke="#111" stroke-width="0.9" />
<line x1="41.6" y1="225.5" x2="43.6" y2="225.5" stroke="#111" stroke-width="0.8" />
<text x="41" y="227.8" font-size="6.5" fill="#111" font-weight="bold" text-anchor="end" >0</text>
<line x1="41.6" y1="209.26" x2="43.6" y2="209.26" stroke="#111" stroke-width="0.8" />
<text x="41" y="211.56" font-size="6.5" fill="#111" font-weight="bold" text-anchor="end" >1000</text>
<line x1="41.6" y1="193.02" x2="43.6" y2="193.02" stroke="#111" stroke-width="0.8" />
<text x="41" y="195.32" font-size="6.5" fill="#111" font-weight="bold" text-anchor="end" >2000</text>
<line x1="41.6" y1="176.78" x2="43.6" y2="176.78" stroke="#111" stroke-width="0.8" />
<text x="41" y="179.08" font-size="6.5" fill="#111" font-weight="bold" text-anchor="end" >3000</text>
<line x1="41.6" y1="160.54" x2="43.6" y2="160.54" stroke="#111" stroke-width="0.8" />
<text x="41" y="162.84" font-size="6.5" fill="#111" font-weight="bold" text-anchor="end" >4000</text>
<line x1="41.6" y1="144.3" x2="43.6" y2="144.3" stroke="#111" stroke-width="0.8" />
<text x="41" y="146.6" font-size="6.5" fill="#111" font-weight="bold" text-anchor="end" >5000</text>
<text x="19.6" y="182" font-size="7.2" fill="#111" font-weight="bold" text-anchor="middle" textLength="49" lengthAdjust="spacingAndGlyphs" transform="rotate(-90 19.6 182)" >IFN-γ [pg/ml]</text>
<line x1="45.8" y1="141.4" x2="125.6" y2="141.4" stroke="#111" stroke-width="0.9" />
<line x1="135" y1="141.4" x2="208" y2="141.4" stroke="#111" stroke-width="0.9" />
<text x="85.7" y="137.2" font-size="8.2" fill="#111" font-weight="bold" stroke="#111" stroke-width="0.12" text-anchor="middle" textLength="46" lengthAdjust="spacingAndGlyphs" >PRAME pos</text>
<text x="171.4" y="137.2" font-size="8.2" fill="#111" font-weight="bold" stroke="#111" stroke-width="0.12" text-anchor="middle" textLength="46.8" lengthAdjust="spacingAndGlyphs" >PRAME neg</text>
<line x1="43.6" y1="225.5" x2="208" y2="225.5" stroke="#333" stroke-width="0.6" />
<line x1="57.5" y1="225.5" x2="57.5" y2="227.3" stroke="#111" stroke-width="0.7" />
<rect x="46" y="225.34" width="3.3" height="0.16" fill="#a6a6a6" stroke="#222" stroke-width="0.2"/>
<line x1="52.65" y1="147.06" x2="52.65" y2="144.62" stroke="#555" stroke-width="0.6" />
<line x1="51.75" y1="144.62" x2="53.55" y2="144.62" stroke="#555" stroke-width="0.6" />
<rect x="51" y="147.06" width="3.3" height="78.44" fill="#000" stroke="#222" stroke-width="0.2"/>
<line x1="57.65" y1="167.69" x2="57.65" y2="164.44" stroke="#555" stroke-width="0.6" />
<line x1="56.75" y1="164.44" x2="58.55" y2="164.44" stroke="#555" stroke-width="0.6" />
<rect x="56" y="167.69" width="3.3" height="57.81" fill="#ee3a3a" stroke="#222" stroke-width="0.2"/>
<line x1="62.65" y1="183.6" x2="62.65" y2="178.73" stroke="#555" stroke-width="0.6" />
<line x1="61.75" y1="178.73" x2="63.55" y2="178.73" stroke="#555" stroke-width="0.6" />
<rect x="61" y="183.6" width="3.3" height="41.9" fill="#2ee82e" stroke="#222" stroke-width="0.2"/>
<line x1="67.65" y1="150.8" x2="67.65" y2="144.3" stroke="#555" stroke-width="0.6" />
<line x1="66.75" y1="144.3" x2="68.55" y2="144.3" stroke="#555" stroke-width="0.6" />
<rect x="66" y="150.8" width="3.3" height="74.7" fill="#2196f3" stroke="#222" stroke-width="0.2"/>
<line x1="85.35" y1="225.5" x2="85.35" y2="227.3" stroke="#111" stroke-width="0.7" />
<rect x="74" y="225.26" width="3.3" height="0.24" fill="#a6a6a6" stroke="#222" stroke-width="0.2"/>
<line x1="80.65" y1="161.4" x2="80.65" y2="157.34" stroke="#555" stroke-width="0.6" />
<line x1="79.75" y1="157.34" x2="81.55" y2="157.34" stroke="#555" stroke-width="0.6" />
<rect x="79" y="161.4" width="3.3" height="64.1" fill="#000" stroke="#222" stroke-width="0.2"/>
<line x1="85.65" y1="179.54" x2="85.65" y2="176.29" stroke="#555" stroke-width="0.6" />
<line x1="84.75" y1="176.29" x2="86.55" y2="176.29" stroke="#555" stroke-width="0.6" />
<rect x="84" y="179.54" width="3.3" height="45.96" fill="#ee3a3a" stroke="#222" stroke-width="0.2"/>
<line x1="90.65" y1="179.54" x2="90.65" y2="176.29" stroke="#555" stroke-width="0.6" />
<line x1="89.75" y1="176.29" x2="91.55" y2="176.29" stroke="#555" stroke-width="0.6" />
<rect x="89" y="179.54" width="3.3" height="45.96" fill="#2ee82e" stroke="#222" stroke-width="0.2"/>
<line x1="95.65" y1="158.8" x2="95.65" y2="152.31" stroke="#555" stroke-width="0.6" />
<line x1="94.75" y1="152.31" x2="96.55" y2="152.31" stroke="#555" stroke-width="0.6" />
<rect x="94" y="158.8" width="3.3" height="66.7" fill="#2196f3" stroke="#222" stroke-width="0.2"/>
<line x1="113.2" y1="225.5" x2="113.2" y2="227.3" stroke="#111" stroke-width="0.7" />
<rect x="102" y="225.18" width="3.3" height="0.32" fill="#a6a6a6" stroke="#222" stroke-width="0.2"/>
<line x1="108.65" y1="208.77" x2="108.65" y2="207.8" stroke="#555" stroke-width="0.6" />
<line x1="107.75" y1="207.8" x2="109.55" y2="207.8" stroke="#555" stroke-width="0.6" />
<rect x="107" y="208.77" width="3.3" height="16.73" fill="#000" stroke="#222" stroke-width="0.2"/>
<line x1="113.65" y1="223.39" x2="113.65" y2="222.74" stroke="#555" stroke-width="0.6" />
<line x1="112.75" y1="222.74" x2="114.55" y2="222.74" stroke="#555" stroke-width="0.6" />
<rect x="112" y="223.39" width="3.3" height="2.11" fill="#ee3a3a" stroke="#222" stroke-width="0.2"/>
<line x1="117.65" y1="224.53" x2="117.65" y2="224.36" stroke="#555" stroke-width="0.6" />
<line x1="116.75" y1="224.36" x2="118.55" y2="224.36" stroke="#555" stroke-width="0.6" />
<rect x="116" y="224.53" width="3.3" height="0.97" fill="#2ee82e" stroke="#222" stroke-width="0.2"/>
<line x1="122.65" y1="219.82" x2="122.65" y2="218.52" stroke="#555" stroke-width="0.6" />
<line x1="121.75" y1="218.52" x2="123.55" y2="218.52" stroke="#555" stroke-width="0.6" />
<rect x="121" y="219.82" width="3.3" height="5.68" fill="#2196f3" stroke="#222" stroke-width="0.2"/>
<line x1="141.05" y1="225.5" x2="141.05" y2="227.3" stroke="#111" stroke-width="0.7" />
<rect x="130" y="225.37" width="3.3" height="0.13" fill="#a6a6a6" stroke="#222" stroke-width="0.2"/>
<rect x="134" y="225.31" width="3.3" height="0.19" fill="#000" stroke="#222" stroke-width="0.2"/>
<rect x="139" y="225.34" width="3.3" height="0.16" fill="#ee3a3a" stroke="#222" stroke-width="0.2"/>
<rect x="144" y="225.37" width="3.3" height="0.13" fill="#2ee82e" stroke="#222" stroke-width="0.2"/>
<rect x="149" y="225.34" width="3.3" height="0.16" fill="#2196f3" stroke="#222" stroke-width="0.2"/>
<line x1="168.9" y1="225.5" x2="168.9" y2="227.3" stroke="#111" stroke-width="0.7" />
<rect x="157" y="225.37" width="3.3" height="0.13" fill="#a6a6a6" stroke="#222" stroke-width="0.2"/>
<rect x="162" y="225.34" width="3.3" height="0.16" fill="#000" stroke="#222" stroke-width="0.2"/>
<rect x="167" y="225.34" width="3.3" height="0.16" fill="#ee3a3a" stroke="#222" stroke-width="0.2"/>
<rect x="172" y="225.37" width="3.3" height="0.13" fill="#2ee82e" stroke="#222" stroke-width="0.2"/>
<rect x="177" y="225.34" width="3.3" height="0.16" fill="#2196f3" stroke="#222" stroke-width="0.2"/>
<line x1="196.75" y1="225.5" x2="196.75" y2="227.3" stroke="#111" stroke-width="0.7" />
<rect x="185" y="225.37" width="3.3" height="0.13" fill="#a6a6a6" stroke="#222" stroke-width="0.2"/>
<rect x="190" y="225.34" width="3.3" height="0.16" fill="#000" stroke="#222" stroke-width="0.2"/>
<rect x="195" y="225.34" width="3.3" height="0.16" fill="#ee3a3a" stroke="#222" stroke-width="0.2"/>
<rect x="200" y="225.37" width="3.3" height="0.13" fill="#2ee82e" stroke="#222" stroke-width="0.2"/>
<rect x="205" y="225.34" width="3.3" height="0.16" fill="#2196f3" stroke="#222" stroke-width="0.2"/>
<text x="59.1" y="233.2" font-size="7" fill="#222" font-weight="bold" text-anchor="end" textLength="28.5" lengthAdjust="spacingAndGlyphs" transform="rotate(-45 59.1 233.2)" >SKMel23</text>
<text x="86.95" y="233.2" font-size="7" fill="#222" font-weight="bold" text-anchor="end" textLength="31.7" lengthAdjust="spacingAndGlyphs" transform="rotate(-45 86.95 233.2)" >Mel624.38</text>
<text x="114.8" y="233.2" font-size="7" fill="#222" font-weight="bold" text-anchor="end" textLength="29" lengthAdjust="spacingAndGlyphs" transform="rotate(-45 114.8 233.2)" >MelA375</text>
<text x="142.65" y="233.2" font-size="7" fill="#222" font-weight="bold" text-anchor="end" textLength="22" lengthAdjust="spacingAndGlyphs" transform="rotate(-45 142.65 233.2)" >647-V</text>
<text x="170.5" y="233.2" font-size="7" fill="#222" font-weight="bold" text-anchor="end" textLength="25" lengthAdjust="spacingAndGlyphs" transform="rotate(-45 170.5 233.2)" >MCF-7</text>
<text x="198.35" y="233.2" font-size="7" fill="#222" font-weight="bold" text-anchor="end" textLength="31" lengthAdjust="spacingAndGlyphs" transform="rotate(-45 198.35 233.2)" >Colo678</text>
<rect x="155.1" y="151.5" width="5" height="5" fill="#a6a6a6" stroke="#222" stroke-width="0.45"/>
<text x="164" y="156.7" font-size="7.8" fill="#333" textLength="10" lengthAdjust="spacingAndGlyphs" >UT</text>
<rect x="155.1" y="160.37" width="5" height="5" fill="#000" stroke="#222" stroke-width="0.45"/>
<text x="164" y="165.57" font-size="7.8" fill="#333" textLength="38" lengthAdjust="spacingAndGlyphs" >TCR-027-004</text>
<rect x="155.1" y="169.24" width="5" height="5" fill="#ee3a3a" stroke="#222" stroke-width="0.45"/>
<text x="164" y="174.44" font-size="7.8" fill="#333" textLength="38" lengthAdjust="spacingAndGlyphs" >TCR-027-085</text>
<rect x="155.1" y="178.11" width="5" height="5" fill="#2ee82e" stroke="#222" stroke-width="0.45"/>
<text x="164" y="183.31" font-size="7.8" fill="#333" textLength="38" lengthAdjust="spacingAndGlyphs" >TCR-038-038</text>
<rect x="155.1" y="186.98" width="5" height="5" fill="#2196f3" stroke="#222" stroke-width="0.45"/>
<text x="164" y="192.18" font-size="7.8" fill="#333" textLength="38" lengthAdjust="spacingAndGlyphs" >TCR-061-119</text>
<text x="215" y="139.4" font-size="11" fill="#111" stroke="#111" stroke-width="0.3">D</text>
<line x1="245.9" y1="140.25" x2="245.9" y2="223.5" stroke="#111" stroke-width="1.1" />
<line x1="245.4" y1="223" x2="333.1" y2="223" stroke="#111" stroke-width="1.1" />
<line x1="243.9" y1="223" x2="245.9" y2="223" stroke="#111" stroke-width="0.9" />
<text x="243" y="225.4" font-size="6.6" fill="#111" font-weight="bold" text-anchor="end" >0.0</text>
<line x1="243.9" y1="206.55" x2="245.9" y2="206.55" stroke="#111" stroke-width="0.9" />
<text x="243" y="208.95" font-size="6.6" fill="#111" font-weight="bold" text-anchor="end" >0.5</text>
<line x1="243.9" y1="190.1" x2="245.9" y2="190.1" stroke="#111" stroke-width="0.9" />
<text x="243" y="192.5" font-size="6.6" fill="#111" font-weight="bold" text-anchor="end" >1.0</text>
<line x1="243.9" y1="173.65" x2="245.9" y2="173.65" stroke="#111" stroke-width="0.9" />
<text x="243" y="176.05" font-size="6.6" fill="#111" font-weight="bold" text-anchor="end" >1.5</text>
<line x1="243.9" y1="157.2" x2="245.9" y2="157.2" stroke="#111" stroke-width="0.9" />
<text x="243" y="159.6" font-size="6.6" fill="#111" font-weight="bold" text-anchor="end" >2.0</text>
<line x1="243.9" y1="140.75" x2="245.9" y2="140.75" stroke="#111" stroke-width="0.9" />
<text x="243" y="143.15" font-size="6.6" fill="#111" font-weight="bold" text-anchor="end" >2.5</text>
<line x1="245.9" y1="223" x2="245.9" y2="225" stroke="#111" stroke-width="0.9" />
<text x="245.9" y="232.6" font-size="6.8" fill="#111" font-weight="bold" text-anchor="middle" >0</text>
<line x1="267.7" y1="223" x2="267.7" y2="225" stroke="#111" stroke-width="0.9" />
<text x="267.7" y="232.6" font-size="6.8" fill="#111" font-weight="bold" text-anchor="middle" >20</text>
<line x1="289.5" y1="223" x2="289.5" y2="225" stroke="#111" stroke-width="0.9" />
<text x="289.5" y="232.6" font-size="6.8" fill="#111" font-weight="bold" text-anchor="middle" >40</text>
<line x1="311.3" y1="223" x2="311.3" y2="225" stroke="#111" stroke-width="0.9" />
<text x="311.3" y="232.6" font-size="6.8" fill="#111" font-weight="bold" text-anchor="middle" >60</text>
<line x1="333.1" y1="223" x2="333.1" y2="225" stroke="#111" stroke-width="0.9" />
<text x="333.1" y="232.6" font-size="6.8" fill="#111" font-weight="bold" text-anchor="middle" >80</text>
<line x1="343.8" y1="140.25" x2="343.8" y2="223.5" stroke="#111" stroke-width="1.1" />
<line x1="343.3" y1="223" x2="431" y2="223" stroke="#111" stroke-width="1.1" />
<line x1="341.8" y1="223" x2="343.8" y2="223" stroke="#111" stroke-width="0.9" />
<line x1="341.8" y1="206.55" x2="343.8" y2="206.55" stroke="#111" stroke-width="0.9" />
<line x1="341.8" y1="190.1" x2="343.8" y2="190.1" stroke="#111" stroke-width="0.9" />
<line x1="341.8" y1="173.65" x2="343.8" y2="173.65" stroke="#111" stroke-width="0.9" />
<line x1="341.8" y1="157.2" x2="343.8" y2="157.2" stroke="#111" stroke-width="0.9" />
<line x1="341.8" y1="140.75" x2="343.8" y2="140.75" stroke="#111" stroke-width="0.9" />
<line x1="343.8" y1="223" x2="343.8" y2="225" stroke="#111" stroke-width="0.9" />
<text x="343.8" y="232.6" font-size="6.8" fill="#111" font-weight="bold" text-anchor="middle" >0</text>
<line x1="365.6" y1="223" x2="365.6" y2="225" stroke="#111" stroke-width="0.9" />
<text x="365.6" y="232.6" font-size="6.8" fill="#111" font-weight="bold" text-anchor="middle" >20</text>
<line x1="387.4" y1="223" x2="387.4" y2="225" stroke="#111" stroke-width="0.9" />
<text x="387.4" y="232.6" font-size="6.8" fill="#111" font-weight="bold" text-anchor="middle" >40</text>
<line x1="409.2" y1="223" x2="409.2" y2="225" stroke="#111" stroke-width="0.9" />
<text x="409.2" y="232.6" font-size="6.8" fill="#111" font-weight="bold" text-anchor="middle" >60</text>
<line x1="431" y1="223" x2="431" y2="225" stroke="#111" stroke-width="0.9" />
<text x="431" y="232.6" font-size="6.8" fill="#111" font-weight="bold" text-anchor="middle" >80</text>
<line x1="441.4" y1="140.25" x2="441.4" y2="223.5" stroke="#111" stroke-width="1.1" />
<line x1="440.9" y1="223" x2="528.6" y2="223" stroke="#111" stroke-width="1.1" />
<line x1="439.4" y1="223" x2="441.4" y2="223" stroke="#111" stroke-width="0.9" />
<line x1="439.4" y1="206.55" x2="441.4" y2="206.55" stroke="#111" stroke-width="0.9" />
<line x1="439.4" y1="190.1" x2="441.4" y2="190.1" stroke="#111" stroke-width="0.9" />
<line x1="439.4" y1="173.65" x2="441.4" y2="173.65" stroke="#111" stroke-width="0.9" />
<line x1="439.4" y1="157.2" x2="441.4" y2="157.2" stroke="#111" stroke-width="0.9" />
<line x1="439.4" y1="140.75" x2="441.4" y2="140.75" stroke="#111" stroke-width="0.9" />
<line x1="441.4" y1="223" x2="441.4" y2="225" stroke="#111" stroke-width="0.9" />
<text x="441.4" y="232.6" font-size="6.8" fill="#111" font-weight="bold" text-anchor="middle" >0</text>
<line x1="463.2" y1="223" x2="463.2" y2="225" stroke="#111" stroke-width="0.9" />
<text x="463.2" y="232.6" font-size="6.8" fill="#111" font-weight="bold" text-anchor="middle" >20</text>
<line x1="485" y1="223" x2="485" y2="225" stroke="#111" stroke-width="0.9" />
<text x="485" y="232.6" font-size="6.8" fill="#111" font-weight="bold" text-anchor="middle" >40</text>
<line x1="506.8" y1="223" x2="506.8" y2="225" stroke="#111" stroke-width="0.9" />
<text x="506.8" y="232.6" font-size="6.8" fill="#111" font-weight="bold" text-anchor="middle" >60</text>
<line x1="528.6" y1="223" x2="528.6" y2="225" stroke="#111" stroke-width="0.9" />
<text x="528.6" y="232.6" font-size="6.8" fill="#111" font-weight="bold" text-anchor="middle" >80</text>
<text x="290.2" y="242.1" font-size="8.8" fill="#111" font-weight="bold" text-anchor="middle" textLength="48.8" lengthAdjust="spacingAndGlyphs" stroke="#111" stroke-width="0.15">Time [hours]</text>
<text x="390.6" y="242.1" font-size="8.8" fill="#111" font-weight="bold" text-anchor="middle" textLength="48.8" lengthAdjust="spacingAndGlyphs" stroke="#111" stroke-width="0.15">Time [hours]</text>
<text x="486.8" y="242.1" font-size="8.8" fill="#111" font-weight="bold" text-anchor="middle" textLength="48.8" lengthAdjust="spacingAndGlyphs" stroke="#111" stroke-width="0.15">Time [hours]</text>
<text x="229.4" y="182" font-size="8.2" fill="#111" font-weight="bold" stroke="#111" stroke-width="0.12" text-anchor="middle" textLength="82" lengthAdjust="spacingAndGlyphs" transform="rotate(-90 229.4 182)" >Cell count [10<tspan font-size="5" dy="-2.5">3</tspan><tspan dy="2.5">/mm</tspan><tspan font-size="5" dy="-2.5">2</tspan><tspan dy="2.5">]</tspan></text>
<text x="289.4" y="137.3" font-size="8.2" fill="#111" font-weight="bold" stroke="#111" stroke-width="0.12" text-anchor="middle" textLength="25" lengthAdjust="spacingAndGlyphs" >647-V</text>
<text x="288.5" y="148.3" font-size="8.2" fill="#333" text-anchor="middle" textLength="52" lengthAdjust="spacingAndGlyphs" >(PRAME neg)</text>
<text x="379.5" y="136.6" font-size="8.2" fill="#111" font-weight="bold" stroke="#111" stroke-width="0.12" text-anchor="middle" textLength="41" lengthAdjust="spacingAndGlyphs" >SKMel23</text>
<text x="374.5" y="148.6" font-size="8.2" fill="#333" text-anchor="middle" textLength="51" lengthAdjust="spacingAndGlyphs" >(PRAME pos)</text>
<text x="484.5" y="136.6" font-size="8.2" fill="#111" font-weight="bold" stroke="#111" stroke-width="0.12" text-anchor="middle" textLength="41" lengthAdjust="spacingAndGlyphs" >MelA375</text>
<text x="475" y="148.6" font-size="8.2" fill="#333" text-anchor="middle" textLength="51" lengthAdjust="spacingAndGlyphs" >(PRAME pos)</text>
<line x1="248.08" y1="220.01" x2="248.08" y2="217.16" stroke="#9a9a9a" stroke-width="0.7" />
<line x1="247.38" y1="217.16" x2="248.78" y2="217.16" stroke="#9a9a9a" stroke-width="0.6" />
<line x1="254.08" y1="219.35" x2="254.08" y2="215.92" stroke="#9a9a9a" stroke-width="0.7" />
<line x1="253.38" y1="215.92" x2="254.78" y2="215.92" stroke="#9a9a9a" stroke-width="0.6" />
<line x1="260.07" y1="218.49" x2="260.07" y2="214.47" stroke="#9a9a9a" stroke-width="0.7" />
<line x1="259.37" y1="214.47" x2="260.77" y2="214.47" stroke="#9a9a9a" stroke-width="0.6" />
<line x1="266.06" y1="217.37" x2="266.06" y2="212.77" stroke="#9a9a9a" stroke-width="0.7" />
<line x1="265.37" y1="212.77" x2="266.76" y2="212.77" stroke="#9a9a9a" stroke-width="0.6" />
<line x1="272.06" y1="215.96" x2="272.06" y2="210.76" stroke="#9a9a9a" stroke-width="0.7" />
<line x1="271.36" y1="210.76" x2="272.76" y2="210.76" stroke="#9a9a9a" stroke-width="0.6" />
<line x1="278.06" y1="214.17" x2="278.06" y2="208.39" stroke="#9a9a9a" stroke-width="0.7" />
<line x1="277.36" y1="208.39" x2="278.75" y2="208.39" stroke="#9a9a9a" stroke-width="0.6" />
<line x1="284.05" y1="211.94" x2="284.05" y2="205.57" stroke="#9a9a9a" stroke-width="0.7" />
<line x1="283.35" y1="205.57" x2="284.75" y2="205.57" stroke="#9a9a9a" stroke-width="0.6" />
<line x1="290.05" y1="209.16" x2="290.05" y2="202.2" stroke="#9a9a9a" stroke-width="0.7" />
<line x1="289.35" y1="202.2" x2="290.75" y2="202.2" stroke="#9a9a9a" stroke-width="0.6" />
<line x1="296.04" y1="205.72" x2="296.04" y2="198.18" stroke="#9a9a9a" stroke-width="0.7" />
<line x1="295.34" y1="198.18" x2="296.74" y2="198.18" stroke="#9a9a9a" stroke-width="0.6" />
<line x1="302.04" y1="201.47" x2="302.04" y2="193.34" stroke="#9a9a9a" stroke-width="0.7" />
<line x1="301.34" y1="193.34" x2="302.74" y2="193.34" stroke="#9a9a9a" stroke-width="0.6" />
<line x1="308.03" y1="196.25" x2="308.03" y2="187.53" stroke="#9a9a9a" stroke-width="0.7" />
<line x1="307.33" y1="187.53" x2="308.73" y2="187.53" stroke="#9a9a9a" stroke-width="0.6" />
<line x1="314.02" y1="189.83" x2="314.02" y2="180.53" stroke="#9a9a9a" stroke-width="0.7" />
<line x1="313.32" y1="180.53" x2="314.72" y2="180.53" stroke="#9a9a9a" stroke-width="0.6" />
<line x1="320.02" y1="181.97" x2="320.02" y2="172.08" stroke="#9a9a9a" stroke-width="0.7" />
<line x1="319.32" y1="172.08" x2="320.72" y2="172.08" stroke="#9a9a9a" stroke-width="0.6" />
<line x1="326.01" y1="172.35" x2="326.01" y2="161.88" stroke="#9a9a9a" stroke-width="0.7" />
<line x1="325.31" y1="161.88" x2="326.71" y2="161.88" stroke="#9a9a9a" stroke-width="0.6" />
<polyline points="245.9,218.89 246.99,218.74 248.08,218.58 249.17,218.43 250.26,218.26 251.35,218.09 252.44,217.91 253.53,217.73 254.62,217.54 255.71,217.34 256.8,217.13 257.89,216.92 258.98,216.7 260.07,216.48 261.16,216.24 262.25,216 263.34,215.74 264.43,215.48 265.52,215.21 266.61,214.93 267.7,214.64 268.79,214.33 269.88,214.02 270.97,213.7 272.06,213.36 273.15,213.01 274.24,212.65 275.33,212.28 276.42,211.89 277.51,211.49 278.6,211.07 279.69,210.64 280.78,210.19 281.87,209.73 282.96,209.25 284.05,208.75 285.14,208.24 286.23,207.7 287.32,207.15 288.41,206.58 289.5,205.99 290.59,205.37 291.68,204.73 292.77,204.07 293.86,203.39 294.95,202.68 296.04,201.95 297.13,201.19 298.22,200.4 299.31,199.58 300.4,198.74 301.49,197.86 302.58,196.95 303.67,196.01 304.76,195.03 305.85,194.02 306.94,192.97 308.03,191.89 309.12,190.77 310.21,189.6 311.3,188.39 312.39,187.14 313.48,185.85 314.57,184.5 315.66,183.11 316.75,181.67 317.84,180.18 318.93,178.63 320.02,177.03 321.11,175.37 322.2,173.65 323.29,171.86 324.38,170.01 325.47,168.1 326.56,166.12" fill="none" stroke="#a8a8a8" stroke-width="1.2" stroke-linejoin="round" />
<line x1="248.08" y1="220.48" x2="248.08" y2="217.61" stroke="#8cc8f4" stroke-width="0.7" />
<line x1="247.38" y1="217.61" x2="248.78" y2="217.61" stroke="#8cc8f4" stroke-width="0.6" />
<line x1="254.08" y1="219.95" x2="254.08" y2="216.45" stroke="#8cc8f4" stroke-width="0.7" />
<line x1="253.38" y1="216.45" x2="254.78" y2="216.45" stroke="#8cc8f4" stroke-width="0.6" />
<line x1="260.07" y1="219.24" x2="260.07" y2="215.1" stroke="#8cc8f4" stroke-width="0.7" />
<line x1="259.37" y1="215.1" x2="260.77" y2="215.1" stroke="#8cc8f4" stroke-width="0.6" />
<line x1="266.06" y1="218.31" x2="266.06" y2="213.53" stroke="#8cc8f4" stroke-width="0.7" />
<line x1="265.37" y1="213.53" x2="266.76" y2="213.53" stroke="#8cc8f4" stroke-width="0.6" />
<line x1="272.06" y1="217.11" x2="272.06" y2="211.7" stroke="#8cc8f4" stroke-width="0.7" />
<line x1="271.36" y1="211.7" x2="272.76" y2="211.7" stroke="#8cc8f4" stroke-width="0.6" />
<line x1="278.06" y1="215.58" x2="278.06" y2="209.54" stroke="#8cc8f4" stroke-width="0.7" />
<line x1="277.36" y1="209.54" x2="278.75" y2="209.54" stroke="#8cc8f4" stroke-width="0.6" />
<line x1="284.05" y1="213.66" x2="284.05" y2="206.99" stroke="#8cc8f4" stroke-width="0.7" />
<line x1="283.35" y1="206.99" x2="284.75" y2="206.99" stroke="#8cc8f4" stroke-width="0.6" />
<line x1="290.05" y1="211.26" x2="290.05" y2="203.95" stroke="#8cc8f4" stroke-width="0.7" />
<line x1="289.35" y1="203.95" x2="290.75" y2="203.95" stroke="#8cc8f4" stroke-width="0.6" />
<line x1="296.04" y1="208.28" x2="296.04" y2="200.33" stroke="#8cc8f4" stroke-width="0.7" />
<line x1="295.34" y1="200.33" x2="296.74" y2="200.33" stroke="#8cc8f4" stroke-width="0.6" />
<line x1="302.04" y1="204.6" x2="302.04" y2="196.01" stroke="#8cc8f4" stroke-width="0.7" />
<line x1="301.34" y1="196.01" x2="302.74" y2="196.01" stroke="#8cc8f4" stroke-width="0.6" />
<line x1="308.03" y1="200.05" x2="308.03" y2="190.83" stroke="#8cc8f4" stroke-width="0.7" />
<line x1="307.33" y1="190.83" x2="308.73" y2="190.83" stroke="#8cc8f4" stroke-width="0.6" />
<line x1="314.02" y1="194.46" x2="314.02" y2="184.61" stroke="#8cc8f4" stroke-width="0.7" />
<line x1="313.32" y1="184.61" x2="314.72" y2="184.61" stroke="#8cc8f4" stroke-width="0.6" />
<line x1="320.02" y1="187.61" x2="320.02" y2="177.12" stroke="#8cc8f4" stroke-width="0.7" />
<line x1="319.32" y1="177.12" x2="320.72" y2="177.12" stroke="#8cc8f4" stroke-width="0.6" />
<line x1="326.01" y1="179.22" x2="326.01" y2="168.09" stroke="#8cc8f4" stroke-width="0.7" />
<line x1="325.31" y1="168.09" x2="326.71" y2="168.09" stroke="#8cc8f4" stroke-width="0.6" />
<polyline points="245.9,219.32 246.99,219.18 248.08,219.05 249.17,218.9 250.26,218.76 251.35,218.6 252.44,218.45 253.53,218.28 254.62,218.11 255.71,217.94 256.8,217.76 257.89,217.57 258.98,217.37 260.07,217.17 261.16,216.96 262.25,216.74 263.34,216.52 264.43,216.29 265.52,216.04 266.61,215.79 267.7,215.54 268.79,215.27 269.88,214.99 270.97,214.7 272.06,214.4 273.15,214.09 274.24,213.77 275.33,213.44 276.42,213.1 277.51,212.74 278.6,212.37 279.69,211.99 280.78,211.6 281.87,211.19 282.96,210.76 284.05,210.32 285.14,209.87 286.23,209.4 287.32,208.91 288.41,208.4 289.5,207.88 290.59,207.33 291.68,206.77 292.77,206.19 293.86,205.58 294.95,204.96 296.04,204.31 297.13,203.64 298.22,202.94 299.31,202.22 300.4,201.47 301.49,200.7 302.58,199.9 303.67,199.07 304.76,198.21 305.85,197.32 306.94,196.4 308.03,195.44 309.12,194.45 310.21,193.43 311.3,192.36 312.39,191.26 313.48,190.12 314.57,188.94 315.66,187.72 316.75,186.45 317.84,185.14 318.93,183.77 320.02,182.37 321.11,180.91 322.2,179.39 323.29,177.83 324.38,176.2 325.47,174.52 326.56,172.78" fill="none" stroke="#2a9ff0" stroke-width="1.3" stroke-linejoin="round" />
<line x1="248.08" y1="219.39" x2="248.08" y2="217.41" stroke="#55dd55" stroke-width="0.7" />
<line x1="254.08" y1="218.38" x2="254.08" y2="216.4" stroke="#55dd55" stroke-width="0.7" />
<line x1="260.07" y1="217.14" x2="260.07" y2="215.17" stroke="#55dd55" stroke-width="0.7" />
<line x1="266.06" y1="215.63" x2="266.06" y2="213.66" stroke="#55dd55" stroke-width="0.7" />
<line x1="272.06" y1="213.79" x2="272.06" y2="211.82" stroke="#55dd55" stroke-width="0.7" />
<line x1="278.06" y1="211.54" x2="278.06" y2="209.57" stroke="#55dd55" stroke-width="0.7" />
<line x1="284.05" y1="208.8" x2="284.05" y2="206.83" stroke="#55dd55" stroke-width="0.7" />
<line x1="290.05" y1="205.46" x2="290.05" y2="203.48" stroke="#55dd55" stroke-width="0.7" />
<line x1="296.04" y1="201.38" x2="296.04" y2="199.4" stroke="#55dd55" stroke-width="0.7" />
<line x1="302.04" y1="196.39" x2="302.04" y2="194.42" stroke="#55dd55" stroke-width="0.7" />
<line x1="308.03" y1="190.32" x2="308.03" y2="188.34" stroke="#55dd55" stroke-width="0.7" />
<line x1="314.02" y1="182.9" x2="314.02" y2="180.92" stroke="#55dd55" stroke-width="0.7" />
<line x1="320.02" y1="173.85" x2="320.02" y2="171.87" stroke="#55dd55" stroke-width="0.7" />
<line x1="326.01" y1="162.8" x2="326.01" y2="160.82" stroke="#55dd55" stroke-width="0.7" />
<polyline points="245.9,218.72 246.99,218.57 248.08,218.4 249.17,218.23 250.26,218.06 251.35,217.87 252.44,217.69 253.53,217.49 254.62,217.29 255.71,217.08 256.8,216.86 257.89,216.63 258.98,216.4 260.07,216.15 261.16,215.9 262.25,215.64 263.34,215.37 264.43,215.09 265.52,214.79 266.61,214.49 267.7,214.18 268.79,213.85 269.88,213.52 270.97,213.17 272.06,212.8 273.15,212.43 274.24,212.04 275.33,211.63 276.42,211.21 277.51,210.78 278.6,210.33 279.69,209.86 280.78,209.38 281.87,208.88 282.96,208.36 284.05,207.82 285.14,207.26 286.23,206.68 287.32,206.07 288.41,205.45 289.5,204.8 290.59,204.13 291.68,203.44 292.77,202.72 293.86,201.97 294.95,201.19 296.04,200.39 297.13,199.56 298.22,198.69 299.31,197.79 300.4,196.87 301.49,195.9 302.58,194.9 303.67,193.87 304.76,192.79 305.85,191.68 306.94,190.53 308.03,189.33 309.12,188.09 310.21,186.8 311.3,185.47 312.39,184.08 313.48,182.65 314.57,181.16 315.66,179.62 316.75,178.02 317.84,176.36 318.93,174.64 320.02,172.86 321.11,171.01 322.2,169.09 323.29,167.11 324.38,165.05 325.47,162.91 326.56,160.69" fill="none" stroke="#18e018" stroke-width="1.3" stroke-linejoin="round" />
<polyline points="245.9,218.72 246.99,218.57 248.08,218.41 249.17,218.24 250.26,218.06 251.35,217.88 252.44,217.7 253.53,217.5 254.62,217.3 255.71,217.1 256.8,216.88 257.89,216.66 258.98,216.43 260.07,216.19 261.16,215.94 262.25,215.68 263.34,215.42 264.43,215.14 265.52,214.85 266.61,214.56 267.7,214.25 268.79,213.93 269.88,213.6 270.97,213.26 272.06,212.9 273.15,212.53 274.24,212.15 275.33,211.76 276.42,211.35 277.51,210.92 278.6,210.48 279.69,210.02 280.78,209.55 281.87,209.06 282.96,208.55 284.05,208.03 285.14,207.48 286.23,206.92 287.32,206.33 288.41,205.72 289.5,205.09 290.59,204.44 291.68,203.76 292.77,203.06 293.86,202.33 294.95,201.58 296.04,200.8 297.13,199.99 298.22,199.15 299.31,198.28 300.4,197.38 301.49,196.45 302.58,195.48 303.67,194.48 304.76,193.44 305.85,192.36 306.94,191.24 308.03,190.09 309.12,188.89 310.21,187.64 311.3,186.36 312.39,185.02 313.48,183.64 314.57,182.2 315.66,180.71 316.75,179.17 317.84,177.58 318.93,175.92 320.02,174.2 321.11,172.43 322.2,170.58 323.29,168.67 324.38,166.69 325.47,164.64 326.56,162.51" fill="none" stroke="#ff3030" stroke-width="1.1" stroke-linejoin="round" />
<line x1="248.08" y1="220.16" x2="248.08" y2="216.65" stroke="#444" stroke-width="0.7" />
<line x1="247.38" y1="216.65" x2="248.78" y2="216.65" stroke="#444" stroke-width="0.6" />
<line x1="254.08" y1="219.46" x2="254.08" y2="215.36" stroke="#444" stroke-width="0.7" />
<line x1="253.38" y1="215.36" x2="254.78" y2="215.36" stroke="#444" stroke-width="0.6" />
<line x1="260.07" y1="218.54" x2="260.07" y2="213.86" stroke="#444" stroke-width="0.7" />
<line x1="259.37" y1="213.86" x2="260.77" y2="213.86" stroke="#444" stroke-width="0.6" />
<line x1="266.06" y1="217.35" x2="266.06" y2="212.09" stroke="#444" stroke-width="0.7" />
<line x1="265.37" y1="212.09" x2="266.76" y2="212.09" stroke="#444" stroke-width="0.6" />
<line x1="272.06" y1="215.85" x2="272.06" y2="210" stroke="#444" stroke-width="0.7" />
<line x1="271.36" y1="210" x2="272.76" y2="210" stroke="#444" stroke-width="0.6" />
<line x1="278.06" y1="213.96" x2="278.06" y2="207.52" stroke="#444" stroke-width="0.7" />
<line x1="277.36" y1="207.52" x2="278.75" y2="207.52" stroke="#444" stroke-width="0.6" />
<line x1="284.05" y1="211.59" x2="284.05" y2="204.57" stroke="#444" stroke-width="0.7" />
<line x1="283.35" y1="204.57" x2="284.75" y2="204.57" stroke="#444" stroke-width="0.6" />
<line x1="290.05" y1="208.65" x2="290.05" y2="201.04" stroke="#444" stroke-width="0.7" />
<line x1="289.35" y1="201.04" x2="290.75" y2="201.04" stroke="#444" stroke-width="0.6" />
<line x1="296.04" y1="205" x2="296.04" y2="196.8" stroke="#444" stroke-width="0.7" />
<line x1="295.34" y1="196.8" x2="296.74" y2="196.8" stroke="#444" stroke-width="0.6" />
<line x1="302.04" y1="200.5" x2="302.04" y2="191.72" stroke="#444" stroke-width="0.7" />
<line x1="301.34" y1="191.72" x2="302.74" y2="191.72" stroke="#444" stroke-width="0.6" />
<line x1="308.03" y1="194.96" x2="308.03" y2="185.59" stroke="#444" stroke-width="0.7" />
<line x1="307.33" y1="185.59" x2="308.73" y2="185.59" stroke="#444" stroke-width="0.6" />
<line x1="314.02" y1="188.15" x2="314.02" y2="178.2" stroke="#444" stroke-width="0.7" />
<line x1="313.32" y1="178.2" x2="314.72" y2="178.2" stroke="#444" stroke-width="0.6" />
<line x1="320.02" y1="179.81" x2="320.02" y2="169.26" stroke="#444" stroke-width="0.7" />
<line x1="319.32" y1="169.26" x2="320.72" y2="169.26" stroke="#444" stroke-width="0.6" />
<line x1="326.01" y1="169.59" x2="326.01" y2="158.45" stroke="#444" stroke-width="0.7" />
<line x1="325.31" y1="158.45" x2="326.71" y2="158.45" stroke="#444" stroke-width="0.6" />
<polyline points="245.9,218.72 246.99,218.57 248.08,218.41 249.17,218.24 250.26,218.07 251.35,217.89 252.44,217.7 253.53,217.51 254.62,217.31 255.71,217.1 256.8,216.89 257.89,216.67 258.98,216.44 260.07,216.2 261.16,215.95 262.25,215.69 263.34,215.43 264.43,215.15 265.52,214.87 266.61,214.57 267.7,214.27 268.79,213.95 269.88,213.62 270.97,213.28 272.06,212.93 273.15,212.56 274.24,212.18 275.33,211.79 276.42,211.38 277.51,210.96 278.6,210.52 279.69,210.06 280.78,209.59 281.87,209.11 282.96,208.6 284.05,208.08 285.14,207.54 286.23,206.97 287.32,206.39 288.41,205.79 289.5,205.16 290.59,204.52 291.68,203.84 292.77,203.15 293.86,202.43 294.95,201.68 296.04,200.9 297.13,200.1 298.22,199.27 299.31,198.4 300.4,197.51 301.49,196.58 302.58,195.62 303.67,194.63 304.76,193.6 305.85,192.53 306.94,191.42 308.03,190.27 309.12,189.09 310.21,187.85 311.3,186.58 312.39,185.25 313.48,183.88 314.57,182.46 315.66,180.98 316.75,179.46 317.84,177.87 318.93,176.23 320.02,174.53 321.11,172.77 322.2,170.95 323.29,169.06 324.38,167.1 325.47,165.06 326.56,162.96" fill="none" stroke="#000" stroke-width="1.2" stroke-linejoin="round" />
<line x1="250.9" y1="165.2" x2="254.9" y2="165.2" stroke="#a8a8a8" stroke-width="1.3" />
<text x="256.8" y="167.5" font-size="6.6" fill="#333" textLength="7.5" lengthAdjust="spacingAndGlyphs" >UT</text>
<line x1="250.9" y1="171.45" x2="254.9" y2="171.45" stroke="#000" stroke-width="1.3" />
<text x="256.8" y="173.75" font-size="6.6" fill="#333" textLength="39" lengthAdjust="spacingAndGlyphs" >TCR-027-004</text>
<line x1="250.9" y1="177.7" x2="254.9" y2="177.7" stroke="#ff3030" stroke-width="1.3" />
<text x="256.8" y="180" font-size="6.6" fill="#333" textLength="39" lengthAdjust="spacingAndGlyphs" >TCR-027-085</text>
<line x1="250.9" y1="183.95" x2="254.9" y2="183.95" stroke="#18e018" stroke-width="1.3" />
<text x="256.8" y="186.25" font-size="6.6" fill="#333" textLength="39" lengthAdjust="spacingAndGlyphs" >TCR-038-038</text>
<line x1="250.9" y1="190.2" x2="254.9" y2="190.2" stroke="#2a9ff0" stroke-width="1.3" />
<text x="256.8" y="192.5" font-size="6.6" fill="#333" textLength="39" lengthAdjust="spacingAndGlyphs" >TCR-061-119</text>
<line x1="345.98" y1="208.63" x2="345.98" y2="202.05" stroke="#aaa" stroke-width="0.7" />
<line x1="351.43" y1="205.39" x2="351.43" y2="198.81" stroke="#aaa" stroke-width="0.7" />
<line x1="356.88" y1="201.83" x2="356.88" y2="195.25" stroke="#aaa" stroke-width="0.7" />
<line x1="362.33" y1="197.97" x2="362.33" y2="191.39" stroke="#aaa" stroke-width="0.7" />
<line x1="367.78" y1="193.79" x2="367.78" y2="187.21" stroke="#aaa" stroke-width="0.7" />
<line x1="373.23" y1="189.29" x2="373.23" y2="182.71" stroke="#aaa" stroke-width="0.7" />
<line x1="378.68" y1="184.49" x2="378.68" y2="177.91" stroke="#aaa" stroke-width="0.7" />
<line x1="384.13" y1="179.37" x2="384.13" y2="172.79" stroke="#aaa" stroke-width="0.7" />
<line x1="389.58" y1="173.94" x2="389.58" y2="167.36" stroke="#aaa" stroke-width="0.7" />
<line x1="395.03" y1="168.2" x2="395.03" y2="161.62" stroke="#aaa" stroke-width="0.7" />
<line x1="400.48" y1="162.14" x2="400.48" y2="155.56" stroke="#aaa" stroke-width="0.7" />
<line x1="405.93" y1="155.78" x2="405.93" y2="149.2" stroke="#aaa" stroke-width="0.7" />
<line x1="411.38" y1="149.09" x2="411.38" y2="142.51" stroke="#aaa" stroke-width="0.7" />
<polyline points="343.8,206.55 344.89,205.95 345.98,205.34 347.07,204.72 348.16,204.08 349.25,203.43 350.34,202.77 351.43,202.1 352.52,201.41 353.61,200.71 354.7,200 355.79,199.28 356.88,198.54 357.97,197.79 359.06,197.03 360.15,196.26 361.24,195.47 362.33,194.68 363.42,193.87 364.51,193.04 365.6,192.21 366.69,191.36 367.78,190.5 368.87,189.62 369.96,188.74 371.05,187.84 372.14,186.93 373.23,186 374.32,185.07 375.41,184.12 376.5,183.16 377.59,182.18 378.68,181.2 379.77,180.2 380.86,179.19 381.95,178.17 383.04,177.13 384.13,176.08 385.22,175.02 386.31,173.95 387.4,172.86 388.49,171.76 389.58,170.65 390.67,169.53 391.76,168.39 392.85,167.24 393.94,166.08 395.03,164.91 396.12,163.72 397.21,162.52 398.3,161.31 399.39,160.09 400.48,158.85 401.57,157.6 402.66,156.34 403.75,155.07 404.84,153.78 405.93,152.49 407.02,151.17 408.11,149.85 409.2,148.51 410.29,147.17 411.38,145.8 412.47,144.43 413.56,143.05 414.65,141.65 415.74,140.24 416.83,138.78" fill="none" stroke="#999" stroke-width="1.2" stroke-linejoin="round" />
<polyline points="343.8,206.22 344.89,205.5 345.98,204.87 347.07,204.37 348.16,204.04 349.25,203.92 350.34,203.95 351.43,204.05 352.52,204.2 353.61,204.38 354.7,204.58 355.79,204.84 356.88,205.22 357.97,205.7 359.06,206.24 360.15,206.85 361.24,207.47 362.33,208.11 363.42,208.73 364.51,209.32 365.6,209.84 366.69,210.3 367.78,210.71 368.87,211.14 369.96,211.6 371.05,212.14 372.14,212.88 373.23,213.81 374.32,214.8 375.41,215.71 376.5,216.42 377.59,216.97 378.68,217.49 379.77,217.98 380.86,218.43 381.95,218.85 383.04,219.23 384.13,219.58 385.22,219.88 386.31,220.15 387.4,220.37 388.49,220.56 389.58,220.73 390.67,220.89 391.76,221.03 392.85,221.16 393.94,221.28 395.03,221.4 396.12,221.5 397.21,221.59 398.3,221.68 399.39,221.77 400.48,221.85 401.57,221.93 402.66,222.01 403.75,222.08 404.84,222.14 405.93,222.2 407.02,222.26 408.11,222.3 409.2,222.34 410.29,222.38 411.38,222.41 412.47,222.45 413.56,222.48 414.65,222.51 415.74,222.54 416.83,222.57 417.92,222.59 419.01,222.62 420.1,222.63 421.19,222.65 422.28,222.66 423.37,222.67 424.46,222.67" fill="none" stroke="#2a9ff0" stroke-width="1.2" stroke-linejoin="round" />
<polyline points="343.8,206.22 344.89,205.73 345.98,205.36 347.07,205.1 348.16,204.95 349.25,204.91 350.34,205.01 351.43,205.29 352.52,205.68 353.61,206.12 354.7,206.55 355.79,206.98 356.88,207.47 357.97,208.01 359.06,208.58 360.15,209.17 361.24,209.78 362.33,210.39 363.42,211 364.51,211.58 365.6,212.14 366.69,212.67 367.78,213.18 368.87,213.69 369.96,214.21 371.05,214.78 372.14,215.42 373.23,216.15 374.32,216.88 375.41,217.54 376.5,218.06 377.59,218.48 378.68,218.87 379.77,219.24 380.86,219.58 381.95,219.89 383.04,220.18 384.13,220.44 385.22,220.66 386.31,220.86 387.4,221.03 388.49,221.17 389.58,221.3 390.67,221.42 391.76,221.52 392.85,221.62 393.94,221.71 395.03,221.8 396.12,221.87 397.21,221.95 398.3,222.01 399.39,222.08 400.48,222.14 401.57,222.2 402.66,222.26 403.75,222.32 404.84,222.37 405.93,222.41 407.02,222.45 408.11,222.48 409.2,222.51 410.29,222.53 411.38,222.54 412.47,222.56 413.56,222.58 414.65,222.6 415.74,222.61 416.83,222.62 417.92,222.64 419.01,222.65 420.1,222.65 421.19,222.66 422.28,222.67 423.37,222.67 424.46,222.67" fill="none" stroke="#18e018" stroke-width="1.4" stroke-linejoin="round" />
<polyline points="343.8,206.22 344.89,205.61 345.98,205.14 347.07,204.82 348.16,204.64 349.25,204.58 350.34,204.71 351.43,205.07 352.52,205.55 353.61,206.07 354.7,206.55 355.79,206.98 356.88,207.43 357.97,207.9 359.06,208.37 360.15,208.85 361.24,209.33 362.33,209.81 363.42,210.27 364.51,210.72 365.6,211.16 366.69,211.55 367.78,211.9 368.87,212.26 369.96,212.66 371.05,213.13 372.14,213.8 373.23,214.67 374.32,215.59 375.41,216.44 376.5,217.08 377.59,217.55 378.68,217.98 379.77,218.39 380.86,218.76 381.95,219.1 383.04,219.41 384.13,219.69 385.22,219.94 386.31,220.17 387.4,220.37 388.49,220.55 389.58,220.72 390.67,220.87 391.76,221.02 392.85,221.15 393.94,221.27 395.03,221.39 396.12,221.49 397.21,221.59 398.3,221.68 399.39,221.77 400.48,221.85 401.57,221.93 402.66,222.01 403.75,222.08 404.84,222.14 405.93,222.2 407.02,222.26 408.11,222.3 409.2,222.34 410.29,222.38 411.38,222.41 412.47,222.45 413.56,222.48 414.65,222.51 415.74,222.54 416.83,222.57 417.92,222.59 419.01,222.62 420.1,222.63 421.19,222.65 422.28,222.66 423.37,222.67 424.46,222.67" fill="none" stroke="#ff3030" stroke-width="1.2" stroke-linejoin="round" />
<line x1="345.98" y1="206.16" x2="345.98" y2="203.53" stroke="#000" stroke-width="0.7" />
<line x1="349.25" y1="205.23" x2="349.25" y2="202.6" stroke="#000" stroke-width="0.7" />
<line x1="352.52" y1="205.68" x2="352.52" y2="203.05" stroke="#000" stroke-width="0.7" />
<line x1="355.79" y1="206.53" x2="355.79" y2="203.9" stroke="#000" stroke-width="0.7" />
<line x1="359.06" y1="207.86" x2="359.06" y2="205.23" stroke="#000" stroke-width="0.7" />
<line x1="362.33" y1="209.44" x2="362.33" y2="206.81" stroke="#000" stroke-width="0.7" />
<line x1="365.6" y1="210.83" x2="365.6" y2="208.19" stroke="#000" stroke-width="0.7" />
<line x1="368.87" y1="211.72" x2="368.87" y2="209.09" stroke="#000" stroke-width="0.7" />
<line x1="372.14" y1="213.21" x2="372.14" y2="210.57" stroke="#000" stroke-width="0.7" />
<line x1="375.41" y1="216.59" x2="375.41" y2="213.96" stroke="#000" stroke-width="0.7" />
<line x1="378.68" y1="218.51" x2="378.68" y2="215.88" stroke="#000" stroke-width="0.7" />
<line x1="381.95" y1="219.87" x2="381.95" y2="217.24" stroke="#000" stroke-width="0.7" />
<line x1="385.22" y1="220.88" x2="385.22" y2="218.25" stroke="#000" stroke-width="0.7" />
<line x1="388.49" y1="221.54" x2="388.49" y2="218.91" stroke="#000" stroke-width="0.7" />
<line x1="391.76" y1="221.99" x2="391.76" y2="219.36" stroke="#000" stroke-width="0.7" />
<line x1="395.03" y1="222.35" x2="395.03" y2="219.71" stroke="#000" stroke-width="0.7" />
<line x1="398.3" y1="222.67" x2="398.3" y2="220.04" stroke="#000" stroke-width="0.7" />
<line x1="401.57" y1="223" x2="401.57" y2="220.39" stroke="#000" stroke-width="0.7" />
<line x1="404.84" y1="223" x2="404.84" y2="220.73" stroke="#000" stroke-width="0.7" />
<line x1="408.11" y1="223" x2="408.11" y2="220.98" stroke="#000" stroke-width="0.7" />
<line x1="411.38" y1="223" x2="411.38" y2="221.1" stroke="#000" stroke-width="0.7" />
<line x1="414.65" y1="223" x2="414.65" y2="221.2" stroke="#000" stroke-width="0.7" />
<line x1="417.92" y1="223" x2="417.92" y2="221.28" stroke="#000" stroke-width="0.7" />
<line x1="421.19" y1="223" x2="421.19" y2="221.34" stroke="#000" stroke-width="0.7" />
<line x1="424.46" y1="223" x2="424.46" y2="221.35" stroke="#000" stroke-width="0.7" />
<polyline points="343.8,206.22 344.89,205.48 345.98,204.84 347.07,204.35 348.16,204.03 349.25,203.92 350.34,203.98 351.43,204.14 352.52,204.37 353.61,204.63 354.7,204.91 355.79,205.21 356.88,205.6 357.97,206.05 359.06,206.55 360.15,207.07 361.24,207.6 362.33,208.13 363.42,208.63 364.51,209.1 365.6,209.51 366.69,209.84 367.78,210.12 368.87,210.4 369.96,210.73 371.05,211.16 372.14,211.89 373.23,212.96 374.32,214.16 375.41,215.28 376.5,216.09 377.59,216.66 378.68,217.2 379.77,217.69 380.86,218.14 381.95,218.56 383.04,218.93 384.13,219.27 385.22,219.57 386.31,219.82 387.4,220.04 388.49,220.23 389.58,220.39 390.67,220.54 391.76,220.68 392.85,220.8 393.94,220.92 395.03,221.03 396.12,221.14 397.21,221.24 398.3,221.35 399.39,221.47 400.48,221.59 401.57,221.71 402.66,221.83 403.75,221.94 404.84,222.05 405.93,222.14 407.02,222.23 408.11,222.29 409.2,222.34 410.29,222.38 411.38,222.42 412.47,222.45 413.56,222.49 414.65,222.52 415.74,222.55 416.83,222.58 417.92,222.6 419.01,222.62 420.1,222.64 421.19,222.65 422.28,222.66 423.37,222.67 424.46,222.67" fill="none" stroke="#000" stroke-width="1.3" stroke-linejoin="round" />
<polyline points="441.4,218.06 442.49,217.96 443.58,217.82 444.67,217.65 445.76,217.44 446.85,217.21 447.94,216.96 449.03,216.68 450.12,216.39 451.21,216.08 452.3,215.76 453.39,215.42 454.48,215.05 455.57,214.63 456.66,214.17 457.75,213.67 458.84,213.13 459.93,212.54 461.02,211.91 462.11,211.23 463.2,210.5 464.29,209.65 465.38,208.64 466.47,207.49 467.56,206.21 468.65,204.84 469.74,203.39 470.83,201.89 471.92,200.37 473.01,198.84 474.1,197.34 475.19,195.82 476.28,194.25 477.37,192.63 478.46,190.96 479.55,189.25 480.64,187.5 481.73,185.72 482.82,183.92 483.91,182.08 485,180.23 486.09,178.32 487.18,176.31 488.27,174.24 489.36,172.12 490.45,169.98 491.54,167.85 492.63,165.74 493.72,163.69 494.81,161.71 495.9,159.83 496.99,158.04 498.08,156.3 499.17,154.6 500.26,152.93 501.35,151.3 502.44,149.7 503.53,148.11 504.62,146.53 505.71,144.96 506.8,143.38 507.89,141.82 508.98,140.29 510.07,138.78" fill="none" stroke="#999" stroke-width="1.2" stroke-linejoin="round" />
<line x1="443.58" y1="215.76" x2="443.58" y2="212.12" stroke="#7cc0f4" stroke-width="0.7" />
<line x1="442.78" y1="212.12" x2="444.38" y2="212.12" stroke="#7cc0f4" stroke-width="0.6" />
<line x1="447.94" y1="214.6" x2="447.94" y2="210.25" stroke="#7cc0f4" stroke-width="0.7" />
<line x1="447.14" y1="210.25" x2="448.74" y2="210.25" stroke="#7cc0f4" stroke-width="0.6" />
<line x1="452.3" y1="213.69" x2="452.3" y2="208.62" stroke="#7cc0f4" stroke-width="0.7" />
<line x1="451.5" y1="208.62" x2="453.1" y2="208.62" stroke="#7cc0f4" stroke-width="0.6" />
<line x1="456.66" y1="213.12" x2="456.66" y2="207.34" stroke="#7cc0f4" stroke-width="0.7" />
<line x1="455.86" y1="207.34" x2="457.46" y2="207.34" stroke="#7cc0f4" stroke-width="0.6" />
<line x1="461.02" y1="212.63" x2="461.02" y2="206.14" stroke="#7cc0f4" stroke-width="0.7" />
<line x1="460.22" y1="206.14" x2="461.82" y2="206.14" stroke="#7cc0f4" stroke-width="0.6" />
<line x1="465.38" y1="211.75" x2="465.38" y2="204.54" stroke="#7cc0f4" stroke-width="0.7" />
<line x1="464.58" y1="204.54" x2="466.18" y2="204.54" stroke="#7cc0f4" stroke-width="0.6" />
<line x1="469.74" y1="210.29" x2="469.74" y2="202.37" stroke="#7cc0f4" stroke-width="0.7" />
<line x1="468.94" y1="202.37" x2="470.54" y2="202.37" stroke="#7cc0f4" stroke-width="0.6" />
<line x1="474.1" y1="208.89" x2="474.1" y2="200.26" stroke="#7cc0f4" stroke-width="0.7" />
<line x1="473.3" y1="200.26" x2="474.9" y2="200.26" stroke="#7cc0f4" stroke-width="0.6" />
<line x1="478.46" y1="207.9" x2="478.46" y2="198.56" stroke="#7cc0f4" stroke-width="0.7" />
<line x1="477.66" y1="198.56" x2="479.26" y2="198.56" stroke="#7cc0f4" stroke-width="0.6" />
<line x1="482.82" y1="206.99" x2="482.82" y2="196.94" stroke="#7cc0f4" stroke-width="0.7" />
<line x1="482.02" y1="196.94" x2="483.62" y2="196.94" stroke="#7cc0f4" stroke-width="0.6" />
<line x1="487.18" y1="205.94" x2="487.18" y2="195.18" stroke="#7cc0f4" stroke-width="0.7" />
<line x1="486.38" y1="195.18" x2="487.98" y2="195.18" stroke="#7cc0f4" stroke-width="0.6" />
<line x1="491.54" y1="204.75" x2="491.54" y2="193.28" stroke="#7cc0f4" stroke-width="0.7" />
<line x1="490.74" y1="193.28" x2="492.34" y2="193.28" stroke="#7cc0f4" stroke-width="0.6" />
<line x1="495.9" y1="203.43" x2="495.9" y2="191.25" stroke="#7cc0f4" stroke-width="0.7" />
<line x1="495.1" y1="191.25" x2="496.7" y2="191.25" stroke="#7cc0f4" stroke-width="0.6" />
<line x1="500.26" y1="201.9" x2="500.26" y2="189.01" stroke="#7cc0f4" stroke-width="0.7" />
<line x1="499.46" y1="189.01" x2="501.06" y2="189.01" stroke="#7cc0f4" stroke-width="0.6" />
<line x1="504.62" y1="200.23" x2="504.62" y2="186.63" stroke="#7cc0f4" stroke-width="0.7" />
<line x1="503.82" y1="186.63" x2="505.42" y2="186.63" stroke="#7cc0f4" stroke-width="0.6" />
<line x1="508.98" y1="198.52" x2="508.98" y2="184.21" stroke="#7cc0f4" stroke-width="0.7" />
<line x1="508.18" y1="184.21" x2="509.78" y2="184.21" stroke="#7cc0f4" stroke-width="0.6" />
<line x1="513.34" y1="196.75" x2="513.34" y2="181.72" stroke="#7cc0f4" stroke-width="0.7" />
<line x1="512.54" y1="181.72" x2="514.14" y2="181.72" stroke="#7cc0f4" stroke-width="0.6" />
<line x1="517.7" y1="195.01" x2="517.7" y2="179.27" stroke="#7cc0f4" stroke-width="0.7" />
<line x1="516.9" y1="179.27" x2="518.5" y2="179.27" stroke="#7cc0f4" stroke-width="0.6" />
<line x1="522.06" y1="193.39" x2="522.06" y2="176.94" stroke="#7cc0f4" stroke-width="0.7" />
<line x1="521.26" y1="176.94" x2="522.86" y2="176.94" stroke="#7cc0f4" stroke-width="0.6" />
<polyline points="441.4,214.78 442.49,214.35 443.58,213.94 444.67,213.54 445.76,213.16 446.85,212.78 447.94,212.42 449.03,212.08 450.12,211.76 451.21,211.45 452.3,211.16 453.39,210.89 454.48,210.65 455.57,210.43 456.66,210.23 457.75,210.03 458.84,209.82 459.93,209.61 461.02,209.39 462.11,209.13 463.2,208.85 464.29,208.52 465.38,208.14 466.47,207.72 467.56,207.27 468.65,206.81 469.74,206.33 470.83,205.86 471.92,205.4 473.01,204.97 474.1,204.58 475.19,204.21 476.28,203.87 477.37,203.54 478.46,203.23 479.55,202.91 480.64,202.6 481.73,202.29 482.82,201.97 483.91,201.64 485,201.29 486.09,200.92 487.18,200.56 488.27,200.18 489.36,199.8 490.45,199.41 491.54,199.01 492.63,198.61 493.72,198.2 494.81,197.77 495.9,197.34 496.99,196.89 498.08,196.43 499.17,195.95 500.26,195.46 501.35,194.96 502.44,194.45 503.53,193.94 504.62,193.43 505.71,192.91 506.8,192.4 507.89,191.89 508.98,191.37 510.07,190.84 511.16,190.3 512.25,189.77 513.34,189.23 514.43,188.7 515.52,188.17 516.61,187.65 517.7,187.14 518.79,186.64 519.88,186.14 520.97,185.65 522.06,185.17" fill="none" stroke="#2a9ff0" stroke-width="1.3" stroke-linejoin="round" />
<line x1="443.58" y1="215.89" x2="443.58" y2="212.16" stroke="#ff7a7a" stroke-width="0.7" />
<line x1="442.78" y1="212.16" x2="444.38" y2="212.16" stroke="#ff7a7a" stroke-width="0.6" />
<line x1="447.94" y1="214.87" x2="447.94" y2="210.25" stroke="#ff7a7a" stroke-width="0.7" />
<line x1="447.14" y1="210.25" x2="448.74" y2="210.25" stroke="#ff7a7a" stroke-width="0.6" />
<line x1="452.3" y1="213.91" x2="452.3" y2="208.4" stroke="#ff7a7a" stroke-width="0.7" />
<line x1="451.5" y1="208.4" x2="453.1" y2="208.4" stroke="#ff7a7a" stroke-width="0.6" />
<line x1="456.66" y1="213.09" x2="456.66" y2="206.69" stroke="#ff7a7a" stroke-width="0.7" />
<line x1="455.86" y1="206.69" x2="457.46" y2="206.69" stroke="#ff7a7a" stroke-width="0.6" />
<line x1="461.02" y1="212.26" x2="461.02" y2="204.97" stroke="#ff7a7a" stroke-width="0.7" />
<line x1="460.22" y1="204.97" x2="461.82" y2="204.97" stroke="#ff7a7a" stroke-width="0.6" />
<line x1="465.38" y1="211.1" x2="465.38" y2="202.92" stroke="#ff7a7a" stroke-width="0.7" />
<line x1="464.58" y1="202.92" x2="466.18" y2="202.92" stroke="#ff7a7a" stroke-width="0.6" />
<line x1="469.74" y1="209.53" x2="469.74" y2="200.46" stroke="#ff7a7a" stroke-width="0.7" />
<line x1="468.94" y1="200.46" x2="470.54" y2="200.46" stroke="#ff7a7a" stroke-width="0.6" />
<line x1="474.1" y1="207.58" x2="474.1" y2="197.62" stroke="#ff7a7a" stroke-width="0.7" />
<line x1="473.3" y1="197.62" x2="474.9" y2="197.62" stroke="#ff7a7a" stroke-width="0.6" />
<line x1="478.46" y1="204.85" x2="478.46" y2="194" stroke="#ff7a7a" stroke-width="0.7" />
<line x1="477.66" y1="194" x2="479.26" y2="194" stroke="#ff7a7a" stroke-width="0.6" />
<line x1="482.82" y1="201.75" x2="482.82" y2="190.01" stroke="#ff7a7a" stroke-width="0.7" />
<line x1="482.02" y1="190.01" x2="483.62" y2="190.01" stroke="#ff7a7a" stroke-width="0.6" />
<line x1="487.18" y1="199.46" x2="487.18" y2="186.84" stroke="#ff7a7a" stroke-width="0.7" />
<line x1="486.38" y1="186.84" x2="487.98" y2="186.84" stroke="#ff7a7a" stroke-width="0.6" />
<line x1="491.54" y1="197.8" x2="491.54" y2="184.28" stroke="#ff7a7a" stroke-width="0.7" />
<line x1="490.74" y1="184.28" x2="492.34" y2="184.28" stroke="#ff7a7a" stroke-width="0.6" />
<line x1="495.9" y1="195.99" x2="495.9" y2="181.58" stroke="#ff7a7a" stroke-width="0.7" />
<line x1="495.1" y1="181.58" x2="496.7" y2="181.58" stroke="#ff7a7a" stroke-width="0.6" />
<line x1="500.26" y1="193.6" x2="500.26" y2="178.3" stroke="#ff7a7a" stroke-width="0.7" />
<line x1="499.46" y1="178.3" x2="501.06" y2="178.3" stroke="#ff7a7a" stroke-width="0.6" />
<line x1="504.62" y1="190.9" x2="504.62" y2="174.72" stroke="#ff7a7a" stroke-width="0.7" />
<line x1="503.82" y1="174.72" x2="505.42" y2="174.72" stroke="#ff7a7a" stroke-width="0.6" />
<line x1="508.98" y1="188" x2="508.98" y2="170.93" stroke="#ff7a7a" stroke-width="0.7" />
<line x1="508.18" y1="170.93" x2="509.78" y2="170.93" stroke="#ff7a7a" stroke-width="0.6" />
<line x1="513.34" y1="184.62" x2="513.34" y2="166.66" stroke="#ff7a7a" stroke-width="0.7" />
<line x1="512.54" y1="166.66" x2="514.14" y2="166.66" stroke="#ff7a7a" stroke-width="0.6" />
<line x1="517.7" y1="182.42" x2="517.7" y2="163.57" stroke="#ff7a7a" stroke-width="0.7" />
<line x1="516.9" y1="163.57" x2="518.5" y2="163.57" stroke="#ff7a7a" stroke-width="0.6" />
<line x1="522.06" y1="181.88" x2="522.06" y2="162.13" stroke="#ff7a7a" stroke-width="0.7" />
<line x1="521.26" y1="162.13" x2="522.86" y2="162.13" stroke="#ff7a7a" stroke-width="0.6" />
<polyline points="441.4,214.78 442.49,214.4 443.58,214.02 444.67,213.65 445.76,213.29 446.85,212.92 447.94,212.56 449.03,212.21 450.12,211.85 451.21,211.5 452.3,211.16 453.39,210.82 454.48,210.5 455.57,210.19 456.66,209.89 457.75,209.59 458.84,209.28 459.93,208.95 461.02,208.62 462.11,208.26 463.2,207.87 464.29,207.45 465.38,207.01 466.47,206.54 467.56,206.05 468.65,205.53 469.74,204.99 470.83,204.43 471.92,203.84 473.01,203.23 474.1,202.6 475.19,201.91 476.28,201.14 477.37,200.3 478.46,199.42 479.55,198.52 480.64,197.61 481.73,196.73 482.82,195.88 483.91,195.09 485,194.38 486.09,193.74 487.18,193.15 488.27,192.6 489.36,192.07 490.45,191.55 491.54,191.04 492.63,190.52 493.72,189.98 494.81,189.4 495.9,188.78 496.99,188.12 498.08,187.43 499.17,186.7 500.26,185.95 501.35,185.18 502.44,184.4 503.53,183.6 504.62,182.81 505.71,182.01 506.8,181.22 507.89,180.38 508.98,179.47 510.07,178.5 511.16,177.53 512.25,176.56 513.34,175.64 514.43,174.79 515.52,174.05 516.61,173.44 517.7,172.99 518.79,172.65 519.88,172.36 520.97,172.14 522.06,172" fill="none" stroke="#ff3030" stroke-width="1.3" stroke-linejoin="round" />
<line x1="443.58" y1="215.81" x2="443.58" y2="212.52" stroke="#22cc22" stroke-width="0.7" />
<line x1="449.03" y1="214.18" x2="449.03" y2="210.89" stroke="#22cc22" stroke-width="0.7" />
<line x1="454.48" y1="212.44" x2="454.48" y2="209.15" stroke="#22cc22" stroke-width="0.7" />
<line x1="459.93" y1="210.62" x2="459.93" y2="207.33" stroke="#22cc22" stroke-width="0.7" />
<line x1="465.38" y1="207.87" x2="465.38" y2="204.58" stroke="#22cc22" stroke-width="0.7" />
<line x1="470.83" y1="203.25" x2="470.83" y2="199.96" stroke="#22cc22" stroke-width="0.7" />
<line x1="476.28" y1="197.56" x2="476.28" y2="194.27" stroke="#22cc22" stroke-width="0.7" />
<line x1="481.73" y1="190.41" x2="481.73" y2="187.12" stroke="#22cc22" stroke-width="0.7" />
<line x1="487.18" y1="182.66" x2="487.18" y2="179.37" stroke="#22cc22" stroke-width="0.7" />
<line x1="492.63" y1="174.26" x2="492.63" y2="170.97" stroke="#22cc22" stroke-width="0.7" />
<line x1="498.08" y1="166.25" x2="498.08" y2="162.96" stroke="#22cc22" stroke-width="0.7" />
<line x1="503.53" y1="158.69" x2="503.53" y2="155.4" stroke="#22cc22" stroke-width="0.7" />
<line x1="508.98" y1="152.01" x2="508.98" y2="148.72" stroke="#22cc22" stroke-width="0.7" />
<line x1="514.43" y1="146.1" x2="514.43" y2="142.81" stroke="#22cc22" stroke-width="0.7" />
<polyline points="441.4,214.78 442.49,214.48 443.58,214.17 444.67,213.86 445.76,213.54 446.85,213.21 447.94,212.88 449.03,212.54 450.12,212.19 451.21,211.84 452.3,211.49 453.39,211.13 454.48,210.79 455.57,210.45 456.66,210.11 457.75,209.75 458.84,209.38 459.93,208.98 461.02,208.54 462.11,208.06 463.2,207.54 464.29,206.93 465.38,206.23 466.47,205.44 467.56,204.57 468.65,203.63 469.74,202.64 470.83,201.61 471.92,200.53 473.01,199.44 474.1,198.32 475.19,197.16 476.28,195.91 477.37,194.59 478.46,193.2 479.55,191.76 480.64,190.28 481.73,188.77 482.82,187.24 483.91,185.71 485,184.18 486.09,182.63 487.18,181.02 488.27,179.37 489.36,177.69 490.45,176 491.54,174.3 492.63,172.61 493.72,170.95 494.81,169.31 495.9,167.73 496.99,166.17 498.08,164.61 499.17,163.06 500.26,161.52 501.35,160 502.44,158.5 503.53,157.04 504.62,155.62 505.71,154.25 506.8,152.92 507.89,151.64 508.98,150.37 510.07,149.12 511.16,147.9 512.25,146.72 513.34,145.57 514.43,144.46 515.52,143.39 516.61,142.37 517.7,141.41 518.79,140.5 519.88,139.66 520.97,138.78" fill="none" stroke="#18e018" stroke-width="1.6" stroke-linejoin="round" />
<line x1="443.58" y1="215.26" x2="443.58" y2="212.63" stroke="#333" stroke-width="0.7" />
<line x1="442.78" y1="212.63" x2="444.38" y2="212.63" stroke="#333" stroke-width="0.6" />
<line x1="449.03" y1="213.4" x2="449.03" y2="210.77" stroke="#333" stroke-width="0.7" />
<line x1="448.23" y1="210.77" x2="449.83" y2="210.77" stroke="#333" stroke-width="0.6" />
<line x1="454.48" y1="211.94" x2="454.48" y2="209.31" stroke="#333" stroke-width="0.7" />
<line x1="453.68" y1="209.31" x2="455.28" y2="209.31" stroke="#333" stroke-width="0.6" />
<line x1="459.93" y1="210.8" x2="459.93" y2="208.17" stroke="#333" stroke-width="0.7" />
<line x1="459.13" y1="208.17" x2="460.73" y2="208.17" stroke="#333" stroke-width="0.6" />
<line x1="465.38" y1="209.67" x2="465.38" y2="207.04" stroke="#333" stroke-width="0.7" />
<line x1="464.58" y1="207.04" x2="466.18" y2="207.04" stroke="#333" stroke-width="0.6" />
<line x1="470.83" y1="209.63" x2="470.83" y2="207" stroke="#333" stroke-width="0.7" />
<line x1="470.03" y1="207" x2="471.63" y2="207" stroke="#333" stroke-width="0.6" />
<line x1="476.28" y1="211.34" x2="476.28" y2="208.71" stroke="#333" stroke-width="0.7" />
<line x1="475.48" y1="208.71" x2="477.08" y2="208.71" stroke="#333" stroke-width="0.6" />
<line x1="481.73" y1="212.43" x2="481.73" y2="209.79" stroke="#333" stroke-width="0.7" />
<line x1="480.93" y1="209.79" x2="482.53" y2="209.79" stroke="#333" stroke-width="0.6" />
<line x1="487.18" y1="213.62" x2="487.18" y2="210.99" stroke="#333" stroke-width="0.7" />
<line x1="486.38" y1="210.99" x2="487.98" y2="210.99" stroke="#333" stroke-width="0.6" />
<line x1="492.63" y1="214.95" x2="492.63" y2="212.32" stroke="#333" stroke-width="0.7" />
<line x1="491.83" y1="212.32" x2="493.43" y2="212.32" stroke="#333" stroke-width="0.6" />
<line x1="498.08" y1="217.7" x2="498.08" y2="215.07" stroke="#333" stroke-width="0.7" />
<line x1="497.28" y1="215.07" x2="498.88" y2="215.07" stroke="#333" stroke-width="0.6" />
<line x1="503.53" y1="220.41" x2="503.53" y2="217.78" stroke="#333" stroke-width="0.7" />
<line x1="502.73" y1="217.78" x2="504.33" y2="217.78" stroke="#333" stroke-width="0.6" />
<line x1="508.98" y1="220.78" x2="508.98" y2="218.15" stroke="#333" stroke-width="0.7" />
<line x1="508.18" y1="218.15" x2="509.78" y2="218.15" stroke="#333" stroke-width="0.6" />
<line x1="514.43" y1="220.94" x2="514.43" y2="218.31" stroke="#333" stroke-width="0.7" />
<line x1="513.63" y1="218.31" x2="515.23" y2="218.31" stroke="#333" stroke-width="0.6" />
<line x1="519.88" y1="221.02" x2="519.88" y2="218.39" stroke="#333" stroke-width="0.7" />
<line x1="519.08" y1="218.39" x2="520.68" y2="218.39" stroke="#333" stroke-width="0.6" />
<polyline points="441.4,214.78 442.49,214.35 443.58,213.94 444.67,213.54 445.76,213.16 446.85,212.78 447.94,212.42 449.03,212.08 450.12,211.76 451.21,211.45 452.3,211.16 453.39,210.88 454.48,210.62 455.57,210.38 456.66,210.14 457.75,209.92 458.84,209.7 459.93,209.48 461.02,209.27 462.11,209.06 463.2,208.85 464.29,208.62 465.38,208.35 466.47,208.11 467.56,207.93 468.65,207.87 469.74,207.99 470.83,208.31 471.92,208.73 473.01,209.16 474.1,209.51 475.19,209.78 476.28,210.02 477.37,210.25 478.46,210.47 479.55,210.68 480.64,210.9 481.73,211.11 482.82,211.33 483.91,211.56 485,211.81 486.09,212.07 487.18,212.31 488.27,212.55 489.36,212.79 490.45,213.05 491.54,213.33 492.63,213.63 493.72,213.97 494.81,214.35 495.9,214.78 496.99,215.44 498.08,216.38 499.17,217.39 500.26,218.24 501.35,218.72 502.44,218.93 503.53,219.1 504.62,219.23 505.71,219.32 506.8,219.38 507.89,219.42 508.98,219.47 510.07,219.5 511.16,219.54 512.25,219.57 513.34,219.6 514.43,219.62 515.52,219.65 516.61,219.67 517.7,219.68 518.79,219.69 519.88,219.7 520.97,219.71 522.06,219.71" fill="none" stroke="#000" stroke-width="1.3" stroke-linejoin="round" />
<g stroke="#999" stroke-width="0.9" fill="none"><path d="M525,140 L527.3,140 L527.3,170 M527.3,170 Q525.6,170.6 525.6,172.5 L525.6,183.5 Q525.6,185.4 527.3,186 L527.3,221 L525,221"/></g>
<path d="M530,154.7h1.7v1.7h-1.7z M533.05,154.7h1.7v1.7h-1.7z M536.1,154.7h1.7v1.7h-1.7z M539.15,154.7h1.7v1.7h-1.7z M530,203.5h1.7v1.7h-1.7z M533.05,203.5h1.7v1.7h-1.7z M536.1,203.5h1.7v1.7h-1.7z M539.15,203.5h1.7v1.7h-1.7z M530.2,177.4h1.7v1.7h-1.7z" fill="#111"/>
<text x="7" y="262.8" font-size="11" fill="#111" stroke="#111" stroke-width="0.3">E</text>
<line x1="42.3" y1="268.5" x2="42.3" y2="372.5" stroke="#111" stroke-width="1.2" />
<line x1="41.8" y1="372" x2="144.1" y2="372" stroke="#111" stroke-width="1.2" />
<line x1="38.5" y1="372" x2="42.3" y2="372" stroke="#111" stroke-width="1" />
<text x="36.7" y="374.4" font-size="6.6" fill="#111" font-weight="bold" text-anchor="end" >0</text>
<line x1="38.5" y1="351.4" x2="42.3" y2="351.4" stroke="#111" stroke-width="1" />
<text x="36.7" y="353.8" font-size="6.6" fill="#111" font-weight="bold" text-anchor="end" >200</text>
<line x1="38.5" y1="330.8" x2="42.3" y2="330.8" stroke="#111" stroke-width="1" />
<text x="36.7" y="333.2" font-size="6.6" fill="#111" font-weight="bold" text-anchor="end" >400</text>
<line x1="38.5" y1="310.2" x2="42.3" y2="310.2" stroke="#111" stroke-width="1" />
<text x="36.7" y="312.6" font-size="6.6" fill="#111" font-weight="bold" text-anchor="end" >600</text>
<line x1="38.5" y1="289.6" x2="42.3" y2="289.6" stroke="#111" stroke-width="1" />
<text x="36.7" y="292" font-size="6.6" fill="#111" font-weight="bold" text-anchor="end" >800</text>
<line x1="38.5" y1="269" x2="42.3" y2="269" stroke="#111" stroke-width="1" />
<text x="36.7" y="271.4" font-size="6.6" fill="#111" font-weight="bold" text-anchor="end" >1000</text>
<line x1="42.3" y1="372" x2="42.3" y2="375.8" stroke="#111" stroke-width="1" />
<text x="42.3" y="384" font-size="6.4" fill="#111" font-weight="bold" text-anchor="middle" >0</text>
<line x1="52.84" y1="372" x2="52.84" y2="375.8" stroke="#111" stroke-width="1" />
<text x="52.84" y="384" font-size="6.4" fill="#111" font-weight="bold" text-anchor="middle" >1</text>
<line x1="63.38" y1="372" x2="63.38" y2="375.8" stroke="#111" stroke-width="1" />
<text x="63.38" y="384" font-size="6.4" fill="#111" font-weight="bold" text-anchor="middle" >2</text>
<line x1="73.92" y1="372" x2="73.92" y2="375.8" stroke="#111" stroke-width="1" />
<text x="73.92" y="384" font-size="6.4" fill="#111" font-weight="bold" text-anchor="middle" >3</text>
<line x1="84.46" y1="372" x2="84.46" y2="375.8" stroke="#111" stroke-width="1" />
<text x="84.46" y="384" font-size="6.4" fill="#111" font-weight="bold" text-anchor="middle" >4</text>
<line x1="95" y1="372" x2="95" y2="375.8" stroke="#111" stroke-width="1" />
<text x="95" y="384" font-size="6.4" fill="#111" font-weight="bold" text-anchor="middle" >5</text>
<line x1="105.54" y1="372" x2="105.54" y2="375.8" stroke="#111" stroke-width="1" />
<text x="105.54" y="384" font-size="6.4" fill="#111" font-weight="bold" text-anchor="middle" >6</text>
<line x1="116.08" y1="372" x2="116.08" y2="375.8" stroke="#111" stroke-width="1" />
<text x="116.08" y="384" font-size="6.4" fill="#111" font-weight="bold" text-anchor="middle" >7</text>
<line x1="126.62" y1="372" x2="126.62" y2="375.8" stroke="#111" stroke-width="1" />
<text x="126.62" y="384" font-size="6.4" fill="#111" font-weight="bold" text-anchor="middle" >8</text>
<line x1="137.16" y1="372" x2="137.16" y2="375.8" stroke="#111" stroke-width="1" />
<text x="137.16" y="384" font-size="6.4" fill="#111" font-weight="bold" text-anchor="middle" >9</text>
<text x="94.3" y="396.2" font-size="8.2" fill="#111" font-weight="bold" stroke="#111" stroke-width="0.12" text-anchor="middle" textLength="51" lengthAdjust="spacingAndGlyphs" >Time [weeks]</text>
<line x1="154.2" y1="268.5" x2="154.2" y2="372.5" stroke="#111" stroke-width="1.2" />
<line x1="153.7" y1="372" x2="256" y2="372" stroke="#111" stroke-width="1.2" />
<line x1="150.4" y1="372" x2="154.2" y2="372" stroke="#111" stroke-width="1" />
<line x1="150.4" y1="351.4" x2="154.2" y2="351.4" stroke="#111" stroke-width="1" />
<line x1="150.4" y1="330.8" x2="154.2" y2="330.8" stroke="#111" stroke-width="1" />
<line x1="150.4" y1="310.2" x2="154.2" y2="310.2" stroke="#111" stroke-width="1" />
<line x1="150.4" y1="289.6" x2="154.2" y2="289.6" stroke="#111" stroke-width="1" />
<line x1="150.4" y1="269" x2="154.2" y2="269" stroke="#111" stroke-width="1" />
<line x1="154.2" y1="372" x2="154.2" y2="375.8" stroke="#111" stroke-width="1" />
<text x="154.2" y="384" font-size="6.4" fill="#111" font-weight="bold" text-anchor="middle" >0</text>
<line x1="164.74" y1="372" x2="164.74" y2="375.8" stroke="#111" stroke-width="1" />
<text x="164.74" y="384" font-size="6.4" fill="#111" font-weight="bold" text-anchor="middle" >1</text>
<line x1="175.28" y1="372" x2="175.28" y2="375.8" stroke="#111" stroke-width="1" />
<text x="175.28" y="384" font-size="6.4" fill="#111" font-weight="bold" text-anchor="middle" >2</text>
<line x1="185.82" y1="372" x2="185.82" y2="375.8" stroke="#111" stroke-width="1" />
<text x="185.82" y="384" font-size="6.4" fill="#111" font-weight="bold" text-anchor="middle" >3</text>
<line x1="196.36" y1="372" x2="196.36" y2="375.8" stroke="#111" stroke-width="1" />
<text x="196.36" y="384" font-size="6.4" fill="#111" font-weight="bold" text-anchor="middle" >4</text>
<line x1="206.9" y1="372" x2="206.9" y2="375.8" stroke="#111" stroke-width="1" />
<text x="206.9" y="384" font-size="6.4" fill="#111" font-weight="bold" text-anchor="middle" >5</text>
<line x1="217.44" y1="372" x2="217.44" y2="375.8" stroke="#111" stroke-width="1" />
<text x="217.44" y="384" font-size="6.4" fill="#111" font-weight="bold" text-anchor="middle" >6</text>
<line x1="227.98" y1="372" x2="227.98" y2="375.8" stroke="#111" stroke-width="1" />
<text x="227.98" y="384" font-size="6.4" fill="#111" font-weight="bold" text-anchor="middle" >7</text>
<line x1="238.52" y1="372" x2="238.52" y2="375.8" stroke="#111" stroke-width="1" />
<text x="238.52" y="384" font-size="6.4" fill="#111" font-weight="bold" text-anchor="middle" >8</text>
<line x1="249.06" y1="372" x2="249.06" y2="375.8" stroke="#111" stroke-width="1" />
<text x="249.06" y="384" font-size="6.4" fill="#111" font-weight="bold" text-anchor="middle" >9</text>
<text x="204.5" y="396.2" font-size="8.2" fill="#111" font-weight="bold" stroke="#111" stroke-width="0.12" text-anchor="middle" textLength="51" lengthAdjust="spacingAndGlyphs" >Time [weeks]</text>
<text x="18.8" y="319" font-size="8.2" fill="#111" font-weight="bold" stroke="#111" stroke-width="0.12" text-anchor="middle" textLength="83" lengthAdjust="spacingAndGlyphs" transform="rotate(-90 18.8 319)" >Tumor volume [mm<tspan font-size="5" dy="-2.5">3</tspan><tspan dy="2.5">]</tspan></text>
<text x="97.5" y="268" font-size="7.6" fill="#111" font-weight="bold" stroke="#111" stroke-width="0.12" text-anchor="middle" textLength="39.3" lengthAdjust="spacingAndGlyphs" >Mel624.38</text>
<text x="201" y="268" font-size="7.6" fill="#111" font-weight="bold" stroke="#111" stroke-width="0.12" text-anchor="middle" textLength="63.3" lengthAdjust="spacingAndGlyphs" >MelA375_PD-L1</text>
<line x1="63.38" y1="273.5" x2="63.38" y2="372" stroke="#2a2a2a" stroke-width="1.3" stroke-dasharray="2.6,2.6"/>
<line x1="164.74" y1="273.5" x2="164.74" y2="372" stroke="#2a2a2a" stroke-width="1.3" stroke-dasharray="2.6,2.6"/>
<polyline points="63.38,367.37 64.28,367.24 65.55,367.08 67.06,366.8 68.65,366.33 70.41,365.71 72.37,364.96 74.31,363.99 76.03,362.73 77.43,361.32 78.65,359.74 79.77,357.7 80.88,354.9 81.94,350.66 82.93,345.33 83.95,340.2 85.09,336.57 86.41,335.54 87.85,336.16 89.33,336.66 90.78,335.23 92.15,330.88 93.49,324.75 94.87,318.21 96.37,312.67 98.15,308.88 100.12,305.96 101.98,302.88 103.43,298.56 104.34,291.89 104.89,283.71 105.24,275.92 105.54,270.44 105.8,269 105.94,269 106.01,269 106.07,269" fill="none" stroke="#b0b0b0" stroke-width="1.2" stroke-linejoin="round" />
<polyline points="63.38,367.37 64.69,367.31 66.56,367.27 68.73,366.97 70.97,366.13 73.32,364.72 75.87,362.88 78.45,360.56 80.88,357.68 83.09,354.05 85.18,349.76 87.23,345.21 89.31,340.79 91.41,336.7 93.49,332.69 95.62,328.51 97.85,323.9 100.24,318.93 102.75,313.71 105.26,307.96 107.65,301.44 110.05,293.07 112.48,283.3 114.6,274.24 116.08,269" fill="none" stroke="#b0b0b0" stroke-width="1.2" stroke-linejoin="round" />
<polyline points="63.38,367.88 66.09,367.72 70,367.53 74.26,367.08 78.03,366.13 81.15,364.42 84.05,362.15 86.76,359.76 89.31,357.68 91.64,356.14 93.75,354.85 95.78,353.56 97.85,352.02 99.96,350.23 102.06,348.32 104.16,346.15 106.28,343.57 108.51,340.41 110.81,336.77 112.98,333.01 114.82,329.46 116.17,326.35 117.19,323.44 118.08,320.41 119.03,316.89 120.09,312.49 121.14,307.47 122.19,302.58 123.25,298.56 124.3,295.82 125.35,293.89 126.4,292.19 127.46,290.12 128.56,287.51 129.68,284.68 130.78,281.77 131.78,278.89 132.75,275.8 133.69,272.52 134.49,269.6 135.05,269" fill="none" stroke="#b0b0b0" stroke-width="1.2" stroke-linejoin="round" />
<polyline points="63.38,367.88 66.09,367.86 70,367.88 74.26,367.64 78.03,366.85 81.15,365.25 84.05,363.05 86.76,360.69 89.31,358.61 91.64,356.99 93.75,355.58 95.78,354.14 97.85,352.43 100.03,350.35 102.25,348.05 104.37,345.62 106.28,343.16 107.87,340.85 109.24,338.59 110.52,336.04 111.86,332.86 113.4,328.71 115.01,323.85 116.5,318.86 117.66,314.32 118.34,309.94 118.68,305.56 118.91,301.96 119.24,299.9 119.71,300.43 120.2,302.86 120.74,305.36 121.35,306.08 122.02,304.22 122.73,300.87 123.55,297.03 124.51,293.72 125.71,291.35 127.08,289.34 128.49,287.2 129.78,284.45 131.01,280.45 132.22,275.63 133.27,271.1 134,269" fill="none" stroke="#b0b0b0" stroke-width="1.2" stroke-linejoin="round" />
<polyline points="63.38,367.88 66.32,367.97 70.56,368.14 75.16,368.05 79.19,367.37 82.43,365.84 85.38,363.7 88.13,361.33 90.78,359.12 93.28,357.36 95.61,355.76 97.89,353.91 100.27,351.4 102.81,347.97 105.41,343.89 108.03,339.52 110.6,335.23 113.12,331.19 115.63,327.18 118.07,322.98 120.4,318.34 122.58,313.16 124.65,307.59 126.67,301.75 128.73,295.78 131.01,289.08 133.43,281.79 135.61,275.16 137.16,270.44 137.86,269 137.95,269 137.78,269 137.69,269" fill="none" stroke="#b0b0b0" stroke-width="1.2" stroke-linejoin="round" />
<polyline points="42.3,372 57.06,371.79 62.33,369.94 65.49,368.39 71.81,368.91 79.19,370.76 84.46,371.69 95,372 127.67,372 132.94,369.43 138.74,364.69 143.48,361.91" fill="none" stroke="#111" stroke-width="1.3" stroke-linejoin="round" />
<polyline points="42.3,372 58.11,371.79 63.38,369.43 70.76,369.12 76.03,370.45 82.35,372 128.73,372 137.16,368.39 143.48,366.33" fill="none" stroke="#111" stroke-width="1.3" stroke-linejoin="round" />
<polyline points="42.3,372 58.11,371.9 63.38,369.94 73.92,369.43 80.24,371.49 86.57,372 130.84,371.79 143.48,368.39" fill="none" stroke="#111" stroke-width="1.3" stroke-linejoin="round" />
<polyline points="154.2,372 156.19,371.86 159.07,371.68 162.15,371.4 164.74,370.97 166.62,370.66 168.17,370.39 169.58,369.64 171.06,367.88 172.62,365.16 174.16,361.7 175.73,357.21 177.39,351.4 179.16,343.96 181.01,335.11 182.9,325.4 184.77,315.35 186.78,303.82 188.92,290.95 190.82,279.21 192.14,271.06" fill="none" stroke="#b0b0b0" stroke-width="1.2" stroke-linejoin="round" />
<polyline points="154.2,372 156.14,371.96 158.94,371.92 162.01,371.72 164.74,371.18 167.02,370.49 169.15,369.67 171.19,368.26 173.17,365.82 175.07,362.31 176.86,357.95 178.66,352.63 180.55,346.25 182.58,338.47 184.7,329.45 186.85,319.82 188.98,310.2 191.29,299.71 193.72,288.38 195.9,278.17 197.41,271.06" fill="none" stroke="#b0b0b0" stroke-width="1.2" stroke-linejoin="round" />
<polyline points="154.2,372 156.57,371.84 160,371.65 163.69,371.24 166.85,370.45 169.25,369.42 171.33,368.17 173.27,366.39 175.28,363.76 177.39,360.25 179.5,356 181.6,351 183.71,345.22 185.77,338.65 187.8,331.31 189.89,323.2 192.14,314.32 194.88,303.36 197.94,290.76 200.74,279.12 202.68,271.06" fill="none" stroke="#b0b0b0" stroke-width="1.2" stroke-linejoin="round" />
<polyline points="154.2,372 157.19,371.71 161.51,371.32 166.13,370.64 170.01,369.43 172.85,367.69 175.21,365.53 177.35,362.87 179.5,359.64 181.68,355.72 183.78,351.17 185.84,346.23 187.93,341.1 190.06,335.68 192.21,329.9 194.33,324.06 196.36,318.44 198.32,312.83 200.21,307.17 202.03,302 203.74,297.84 205.3,295.39 206.74,294.17 208.12,292.99 209.53,290.63 211.12,286.15 212.8,280.39 214.29,274.87 215.33,271.06" fill="none" stroke="#b0b0b0" stroke-width="1.2" stroke-linejoin="round" />
<polyline points="154.2,372 157.21,371.75 161.58,371.42 166.21,370.87 170.01,369.94 172.66,368.84 174.75,367.56 176.58,365.67 178.44,362.73 180.41,358.55 182.33,353.4 184.15,347.5 185.82,341.1 187.31,334.22 188.65,326.74 189.9,318.72 191.09,310.2 192.32,300.08 193.53,288.7 194.57,278.29 195.31,271.06" fill="none" stroke="#b0b0b0" stroke-width="1.2" stroke-linejoin="round" />
<polyline points="154.2,372 156.57,371.84 160,371.65 163.69,371.24 166.85,370.45 169.27,369.78 171.37,369.14 173.32,367.47 175.28,363.76 177.19,357.75 178.99,349.98 180.89,340.61 183.08,329.77 185.96,315.56 189.31,298.55 192.42,282.6 194.57,271.57" fill="none" stroke="#111" stroke-width="1.3" stroke-linejoin="round" />
<polyline points="154.2,372 156.52,371.89 159.87,371.77 163.54,371.38 166.85,370.45 169.67,369.32 172.35,367.98 174.91,365.69 177.39,361.7 179.81,355.1 182.16,346.53 184.36,337.56 186.35,329.77 188.1,323.25 189.67,317.27 191.05,312.18 192.25,308.35 193.21,306.95 193.94,307.45 194.59,307.57 195.31,305.05 196.21,298.02 197.18,288.11 198.07,278.3 198.68,271.57" fill="none" stroke="#111" stroke-width="1.3" stroke-linejoin="round" />
<polyline points="154.2,372 157.19,371.73 161.51,371.39 166.13,370.71 170.01,369.43 172.81,367.72 175.1,365.66 177.22,362.77 179.5,358.61 181.89,353.36 184.28,347.15 186.83,339.47 189.72,329.77 193.44,315.92 197.74,298.87 201.72,282.72 204.48,271.57" fill="none" stroke="#111" stroke-width="1.3" stroke-linejoin="round" />
<polyline points="154.2,372 157.14,371.8 161.38,371.55 165.98,371.01 170.01,369.94 173.28,368.25 176.27,366.08 179.03,363.52 181.6,360.67 183.93,357.55 186.02,354.1 188,350.34 190.04,346.25 192.19,341.89 194.36,337.24 196.49,332.2 198.47,326.68 200.37,320.23 202.2,313.03 203.83,305.97 205.11,299.9 205.84,294.97 206.16,290.75 206.4,287.24 206.9,284.45 207.76,282.45 208.8,281.22 209.91,280.6 211.01,280.43 212.08,279.9 213.18,279.36 214.27,280.35 215.33,284.45 216.34,293.39 217.32,305.9 218.31,319.01 219.34,329.77 220.54,337.71 221.85,344.29 223.04,349.46 223.87,353.15" fill="none" stroke="#111" stroke-width="1.3" stroke-linejoin="round" />
<polyline points="154.2,372 157.16,371.9 161.45,371.81 166.06,371.3 170.01,369.94 173.06,367.44 175.74,364.08 178.19,360.31 180.55,356.55 182.83,352.95 184.96,349.28 187,345.37 188.98,341.1 190.93,336.43 192.8,331.44 194.61,326.13 196.36,320.5 198.06,314.36 199.72,307.79 201.28,301.13 202.68,294.75 203.99,288.23 205.19,281.55 206.19,275.68 206.9,271.57" fill="none" stroke="#111" stroke-width="1.3" stroke-linejoin="round" />
<polyline points="154.2,372 157.09,372.02 161.25,372.13 165.84,371.66 170.01,369.94 173.71,366.39 177.32,361.51 180.71,356.2 183.71,351.4 186.19,347.56 188.26,344.13 190.16,340.46 192.14,335.95 194.25,330.36 196.36,324.04 198.47,317.24 200.58,310.2 202.81,302.29 205.14,293.62 207.29,285.52 209.01,279.3 210.18,275.56 210.96,273.51 211.47,272.42 211.85,271.57" fill="none" stroke="#111" stroke-width="1.3" stroke-linejoin="round" />
<line x1="224.5" y1="300.4" x2="234.2" y2="300.4" stroke="#b0b0b0" stroke-width="1.4" />
<line x1="224.5" y1="310.8" x2="234.2" y2="310.8" stroke="#111" stroke-width="1.6" />
<text x="240.7" y="303.3" font-size="8" fill="#333" >UT</text>
<text x="240.7" y="313.7" font-size="8" fill="#333" >TCR</text>
<text x="263.5" y="262.8" font-size="11" fill="#111" stroke="#111" stroke-width="0.3">F</text>
<line x1="286.3" y1="268" x2="286.3" y2="371.8" stroke="#111" stroke-width="1.2" />
<line x1="285.8" y1="371.3" x2="403.3" y2="371.3" stroke="#111" stroke-width="1.2" />
<line x1="282.5" y1="371.3" x2="286.3" y2="371.3" stroke="#111" stroke-width="1" />
<text x="281.5" y="373.8" font-size="7" fill="#111" font-weight="bold" text-anchor="end" >0</text>
<line x1="282.5" y1="345.6" x2="286.3" y2="345.6" stroke="#111" stroke-width="1" />
<text x="281.5" y="348.1" font-size="7" fill="#111" font-weight="bold" text-anchor="end" >25</text>
<line x1="282.5" y1="319.9" x2="286.3" y2="319.9" stroke="#111" stroke-width="1" />
<text x="281.5" y="322.4" font-size="7" fill="#111" font-weight="bold" text-anchor="end" >50</text>
<line x1="282.5" y1="294.2" x2="286.3" y2="294.2" stroke="#111" stroke-width="1" />
<text x="281.5" y="296.7" font-size="7" fill="#111" font-weight="bold" text-anchor="end" >75</text>
<line x1="282.5" y1="268.5" x2="286.3" y2="268.5" stroke="#111" stroke-width="1" />
<text x="281.5" y="271" font-size="7" fill="#111" font-weight="bold" text-anchor="end" >100</text>
<line x1="286.3" y1="371.3" x2="286.3" y2="375.1" stroke="#111" stroke-width="1" />
<text x="286.3" y="384" font-size="6.4" fill="#111" font-weight="bold" text-anchor="middle" >0</text>
<line x1="298.6" y1="371.3" x2="298.6" y2="375.1" stroke="#111" stroke-width="1" />
<text x="298.6" y="384" font-size="6.4" fill="#111" font-weight="bold" text-anchor="middle" >1</text>
<line x1="310.9" y1="371.3" x2="310.9" y2="375.1" stroke="#111" stroke-width="1" />
<text x="310.9" y="384" font-size="6.4" fill="#111" font-weight="bold" text-anchor="middle" >2</text>
<line x1="323.2" y1="371.3" x2="323.2" y2="375.1" stroke="#111" stroke-width="1" />
<text x="323.2" y="384" font-size="6.4" fill="#111" font-weight="bold" text-anchor="middle" >3</text>
<line x1="335.5" y1="371.3" x2="335.5" y2="375.1" stroke="#111" stroke-width="1" />
<text x="335.5" y="384" font-size="6.4" fill="#111" font-weight="bold" text-anchor="middle" >4</text>
<line x1="347.8" y1="371.3" x2="347.8" y2="375.1" stroke="#111" stroke-width="1" />
<text x="347.8" y="384" font-size="6.4" fill="#111" font-weight="bold" text-anchor="middle" >5</text>
<line x1="360.1" y1="371.3" x2="360.1" y2="375.1" stroke="#111" stroke-width="1" />
<text x="360.1" y="384" font-size="6.4" fill="#111" font-weight="bold" text-anchor="middle" >6</text>
<line x1="372.4" y1="371.3" x2="372.4" y2="375.1" stroke="#111" stroke-width="1" />
<text x="372.4" y="384" font-size="6.4" fill="#111" font-weight="bold" text-anchor="middle" >7</text>
<line x1="384.7" y1="371.3" x2="384.7" y2="375.1" stroke="#111" stroke-width="1" />
<text x="384.7" y="384" font-size="6.4" fill="#111" font-weight="bold" text-anchor="middle" >8</text>
<line x1="397" y1="371.3" x2="397" y2="375.1" stroke="#111" stroke-width="1" />
<text x="397" y="384" font-size="6.4" fill="#111" font-weight="bold" text-anchor="middle" >9</text>
<text x="348.9" y="396.2" font-size="8.2" fill="#111" font-weight="bold" stroke="#111" stroke-width="0.12" text-anchor="middle" textLength="50.5" lengthAdjust="spacingAndGlyphs" >Time [weeks]</text>
<line x1="418.5" y1="268" x2="418.5" y2="371.8" stroke="#111" stroke-width="1.2" />
<line x1="418" y1="371.3" x2="535.5" y2="371.3" stroke="#111" stroke-width="1.2" />
<line x1="414.7" y1="371.3" x2="418.5" y2="371.3" stroke="#111" stroke-width="1" />
<line x1="414.7" y1="345.6" x2="418.5" y2="345.6" stroke="#111" stroke-width="1" />
<line x1="414.7" y1="319.9" x2="418.5" y2="319.9" stroke="#111" stroke-width="1" />
<line x1="414.7" y1="294.2" x2="418.5" y2="294.2" stroke="#111" stroke-width="1" />
<line x1="414.7" y1="268.5" x2="418.5" y2="268.5" stroke="#111" stroke-width="1" />
<line x1="418.5" y1="371.3" x2="418.5" y2="375.1" stroke="#111" stroke-width="1" />
<text x="418.5" y="384" font-size="6.4" fill="#111" font-weight="bold" text-anchor="middle" >0</text>
<line x1="430.8" y1="371.3" x2="430.8" y2="375.1" stroke="#111" stroke-width="1" />
<text x="430.8" y="384" font-size="6.4" fill="#111" font-weight="bold" text-anchor="middle" >1</text>
<line x1="443.1" y1="371.3" x2="443.1" y2="375.1" stroke="#111" stroke-width="1" />
<text x="443.1" y="384" font-size="6.4" fill="#111" font-weight="bold" text-anchor="middle" >2</text>
<line x1="455.4" y1="371.3" x2="455.4" y2="375.1" stroke="#111" stroke-width="1" />
<text x="455.4" y="384" font-size="6.4" fill="#111" font-weight="bold" text-anchor="middle" >3</text>
<line x1="467.7" y1="371.3" x2="467.7" y2="375.1" stroke="#111" stroke-width="1" />
<text x="467.7" y="384" font-size="6.4" fill="#111" font-weight="bold" text-anchor="middle" >4</text>
<line x1="480" y1="371.3" x2="480" y2="375.1" stroke="#111" stroke-width="1" />
<text x="480" y="384" font-size="6.4" fill="#111" font-weight="bold" text-anchor="middle" >5</text>
<line x1="492.3" y1="371.3" x2="492.3" y2="375.1" stroke="#111" stroke-width="1" />
<text x="492.3" y="384" font-size="6.4" fill="#111" font-weight="bold" text-anchor="middle" >6</text>
<line x1="504.6" y1="371.3" x2="504.6" y2="375.1" stroke="#111" stroke-width="1" />
<text x="504.6" y="384" font-size="6.4" fill="#111" font-weight="bold" text-anchor="middle" >7</text>
<line x1="516.9" y1="371.3" x2="516.9" y2="375.1" stroke="#111" stroke-width="1" />
<text x="516.9" y="384" font-size="6.4" fill="#111" font-weight="bold" text-anchor="middle" >8</text>
<line x1="529.2" y1="371.3" x2="529.2" y2="375.1" stroke="#111" stroke-width="1" />
<text x="529.2" y="384" font-size="6.4" fill="#111" font-weight="bold" text-anchor="middle" >9</text>
<text x="481.1" y="396.2" font-size="8.2" fill="#111" font-weight="bold" stroke="#111" stroke-width="0.12" text-anchor="middle" textLength="50.5" lengthAdjust="spacingAndGlyphs" >Time [weeks]</text>
<text x="269.9" y="320.5" font-size="8" fill="#111" font-weight="bold" stroke="#111" stroke-width="0.12" text-anchor="middle" textLength="47" lengthAdjust="spacingAndGlyphs" transform="rotate(-90 269.9 320.5)" >Survival [%]</text>
<text x="343.2" y="262.7" font-size="8.2" fill="#111" font-weight="bold" stroke="#111" stroke-width="0.12" text-anchor="middle" textLength="39.2" lengthAdjust="spacingAndGlyphs" >Mel624.38</text>
<text x="468.2" y="262.5" font-size="8.2" fill="#111" font-weight="bold" stroke="#111" stroke-width="0.12" text-anchor="middle" textLength="62.3" lengthAdjust="spacingAndGlyphs" >MelA375_PD-L1</text>
<line x1="310.9" y1="271.3" x2="310.9" y2="371.3" stroke="#2a2a2a" stroke-width="1.3" stroke-dasharray="2.6,2.65"/>
<line x1="430.8" y1="271.3" x2="430.8" y2="371.3" stroke="#2a2a2a" stroke-width="1.3" stroke-dasharray="2.6,2.65"/>
<polyline points="286.3,268.5 358.87,268.5 358.87,289.06 373.63,289.06 373.63,309.62 392.08,309.62 392.08,330.18 395.77,330.18 395.77,350.74 399.46,350.74 399.46,371.3" fill="none" stroke="#a8a8a8" stroke-width="1.6" stroke-linejoin="miter"/>
<line x1="358.87" y1="268.5" x2="404.38" y2="268.5" stroke="#000" stroke-width="1.6" />
<text x="363.2" y="282.4" font-size="11" fill="#111" font-weight="bold" stroke="#111" stroke-width="0.12" textLength="8.6" lengthAdjust="spacingAndGlyphs" >**</text>
<polyline points="418.5,268.5 465.86,268.5 465.86,319.9 481.23,319.9 481.23,354.13 490.45,354.13 490.45,371.3" fill="none" stroke="#a8a8a8" stroke-width="1.6" stroke-linejoin="miter"/>
<polyline points="468.93,285.67 474.47,285.67 474.47,302.73 479.38,302.73 479.38,319.9 486.15,319.9 486.15,354.13 499.06,354.13 499.06,371.3" fill="none" stroke="#000" stroke-width="1.8" stroke-linejoin="miter"/>
<line x1="465.86" y1="268.5" x2="468.93" y2="268.5" stroke="#000" stroke-width="1.6" />
<polyline points="468.93,268.5 468.93,285.67" stroke="#000" stroke-width="1.6" fill="none"/>
<text x="477.2" y="276.3" font-size="9.2" fill="#222" textLength="8.4" lengthAdjust="spacingAndGlyphs" >ns</text>
<line x1="505" y1="279.6" x2="515.6" y2="279.6" stroke="#a8a8a8" stroke-width="1.3" />
<line x1="505" y1="289.5" x2="515.6" y2="289.5" stroke="#000" stroke-width="1.5" />
<text x="522.2" y="282.2" font-size="7.4" fill="#222" textLength="9.8" lengthAdjust="spacingAndGlyphs" >UT</text>
<text x="522.2" y="292.2" font-size="7.4" fill="#222" textLength="15.5" lengthAdjust="spacingAndGlyphs" >TCR</text>
</svg></body></html>
